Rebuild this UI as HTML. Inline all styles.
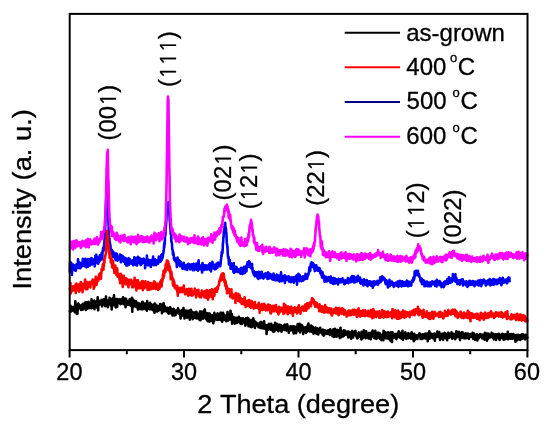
<!DOCTYPE html>
<html><head><meta charset="utf-8"><style>
html,body{margin:0;padding:0;background:#fff;width:550px;height:430px;overflow:hidden}
svg{display:block}
text{font-family:"Liberation Sans",Arial,sans-serif;fill:#000;font-kerning:none;stroke:#000;stroke-width:0.3px}
</style></head><body>
<svg width="550" height="430" viewBox="0 0 550 430">
<rect x="0" y="0" width="550" height="430" fill="#fff"/>
<g fill="none" stroke-linejoin="round" stroke-width="2.6">
<polyline stroke="#000" points="69.8,310.4 70.0,311.7 70.3,310.3 70.5,305.9 70.7,311.8 70.9,310.5 71.2,307.8 71.4,310.8 71.6,310.2 71.9,310.0 72.1,309.2 72.3,310.6 72.5,307.1 72.8,308.6 73.0,307.7 73.2,310.5 73.5,309.0 73.7,308.0 73.9,306.7 74.1,308.1 74.4,308.7 74.6,307.9 74.8,312.1 75.1,311.3 75.3,301.3 75.5,303.4 75.8,308.0 76.0,307.3 76.2,309.0 76.4,308.9 76.7,314.0 76.9,305.3 77.1,307.2 77.4,313.6 77.6,309.9 77.8,309.9 78.0,306.7 78.3,303.6 78.5,308.4 78.7,308.2 79.0,304.6 79.2,306.0 79.4,307.6 79.6,305.2 79.9,307.5 80.1,307.9 80.3,307.7 80.6,306.2 80.8,309.1 81.0,309.9 81.2,308.3 81.5,305.2 81.7,309.3 81.9,306.0 82.2,309.6 82.4,304.4 82.6,309.7 82.8,307.1 83.1,303.8 83.3,306.3 83.5,307.2 83.8,307.7 84.0,304.4 84.2,304.0 84.4,307.4 84.7,305.6 84.9,307.4 85.1,308.8 85.4,302.3 85.6,307.4 85.8,309.9 86.0,305.8 86.3,304.4 86.5,308.5 86.7,307.1 87.0,308.8 87.2,305.4 87.4,302.4 87.7,306.0 87.9,305.0 88.1,308.2 88.3,306.6 88.6,301.7 88.8,302.8 89.0,308.2 89.3,307.6 89.5,304.1 89.7,305.7 89.9,306.9 90.2,306.9 90.4,307.9 90.6,306.2 90.9,305.2 91.1,304.7 91.3,308.1 91.5,299.4 91.8,304.9 92.0,305.3 92.2,301.4 92.5,305.9 92.7,303.3 92.9,307.2 93.1,304.6 93.4,306.6 93.6,308.0 93.8,305.7 94.1,302.4 94.3,300.6 94.5,309.2 94.7,304.2 95.0,302.6 95.2,304.8 95.4,303.8 95.7,306.5 95.9,304.3 96.1,304.2 96.3,302.2 96.6,305.3 96.8,301.3 97.0,305.7 97.3,307.9 97.5,299.8 97.7,297.3 97.9,305.3 98.2,310.3 98.4,301.0 98.6,300.3 98.9,305.0 99.1,301.2 99.3,302.1 99.6,302.4 99.8,304.7 100.0,302.2 100.2,303.9 100.5,302.6 100.7,300.9 100.9,302.2 101.2,300.5 101.4,302.9 101.6,299.9 101.8,299.9 102.1,306.5 102.3,302.5 102.5,302.5 102.8,303.9 103.0,301.4 103.2,301.8 103.4,303.5 103.7,303.1 103.9,299.3 104.1,304.4 104.4,300.6 104.6,299.4 104.8,299.7 105.0,301.0 105.3,306.2 105.5,299.0 105.7,302.4 106.0,296.5 106.2,302.0 106.4,304.4 106.6,301.4 106.9,300.4 107.1,302.6 107.3,303.8 107.6,303.8 107.8,307.1 108.0,302.6 108.2,300.5 108.5,301.7 108.7,301.9 108.9,302.3 109.2,302.0 109.4,302.5 109.6,297.8 109.8,304.2 110.1,300.6 110.3,299.1 110.5,303.7 110.8,305.5 111.0,303.4 111.2,302.5 111.5,299.7 111.7,309.5 111.9,304.4 112.1,299.2 112.4,300.1 112.6,302.3 112.8,298.1 113.1,302.6 113.3,301.0 113.5,305.3 113.7,304.6 114.0,295.2 114.2,302.3 114.4,298.0 114.7,305.0 114.9,302.6 115.1,303.6 115.3,299.4 115.6,306.9 115.8,307.3 116.0,299.5 116.3,303.1 116.5,300.5 116.7,302.1 116.9,299.0 117.2,307.0 117.4,299.7 117.6,301.4 117.9,303.5 118.1,300.6 118.3,301.6 118.5,300.8 118.8,301.9 119.0,299.2 119.2,301.1 119.5,301.7 119.7,301.4 119.9,302.4 120.1,301.5 120.4,304.2 120.6,301.4 120.8,301.9 121.1,300.6 121.3,300.9 121.5,299.0 121.7,303.6 122.0,299.4 122.2,300.4 122.4,303.2 122.7,303.3 122.9,301.3 123.1,297.2 123.4,303.4 123.6,303.0 123.8,298.7 124.0,304.3 124.3,300.6 124.5,299.6 124.7,302.7 125.0,302.1 125.2,303.1 125.4,298.5 125.6,307.2 125.9,301.2 126.1,298.8 126.3,304.3 126.6,301.9 126.8,303.7 127.0,302.0 127.2,302.8 127.5,303.6 127.7,301.2 127.9,304.8 128.2,301.9 128.4,301.0 128.6,303.4 128.8,304.4 129.1,302.7 129.3,301.2 129.5,304.9 129.8,299.0 130.0,300.9 130.2,303.6 130.4,300.1 130.7,303.7 130.9,303.5 131.1,305.9 131.4,301.4 131.6,302.2 131.8,304.7 132.0,297.7 132.3,311.7 132.5,302.2 132.7,302.2 133.0,306.2 133.2,304.0 133.4,299.7 133.6,305.7 133.9,306.3 134.1,303.1 134.3,303.6 134.6,305.6 134.8,302.1 135.0,305.5 135.3,305.0 135.5,302.8 135.7,301.1 135.9,304.0 136.2,302.5 136.4,307.2 136.6,305.1 136.9,306.7 137.1,305.1 137.3,305.5 137.5,302.9 137.8,306.6 138.0,309.4 138.2,304.3 138.5,303.6 138.7,304.7 138.9,304.0 139.1,303.5 139.4,305.6 139.6,304.6 139.8,308.9 140.1,305.4 140.3,306.2 140.5,307.8 140.7,304.8 141.0,309.1 141.2,304.0 141.4,303.6 141.7,304.8 141.9,305.4 142.1,302.3 142.3,305.7 142.6,301.7 142.8,309.3 143.0,305.7 143.3,304.4 143.5,303.8 143.7,305.1 143.9,305.6 144.2,303.6 144.4,303.9 144.6,305.8 144.9,305.0 145.1,308.6 145.3,309.2 145.5,306.5 145.8,307.6 146.0,303.2 146.2,308.1 146.5,306.5 146.7,307.8 146.9,310.6 147.2,301.0 147.4,307.3 147.6,304.0 147.8,308.2 148.1,303.5 148.3,305.6 148.5,307.3 148.8,308.3 149.0,307.0 149.2,304.9 149.4,305.6 149.7,309.1 149.9,307.0 150.1,302.9 150.4,309.1 150.6,308.1 150.8,309.2 151.0,306.3 151.3,309.2 151.5,304.6 151.7,308.6 152.0,306.0 152.2,308.9 152.4,309.7 152.6,305.5 152.9,307.2 153.1,307.5 153.3,310.3 153.6,309.2 153.8,304.5 154.0,308.6 154.2,309.3 154.5,312.7 154.7,303.5 154.9,306.3 155.2,310.9 155.4,304.3 155.6,304.7 155.8,309.0 156.1,310.2 156.3,306.1 156.5,309.1 156.8,308.1 157.0,311.5 157.2,307.9 157.4,310.3 157.7,305.7 157.9,307.5 158.1,307.7 158.4,310.8 158.6,309.4 158.8,306.2 159.1,309.7 159.3,310.0 159.5,307.9 159.7,307.5 160.0,307.7 160.2,304.1 160.4,308.7 160.7,308.8 160.9,306.2 161.1,310.1 161.3,305.0 161.6,307.1 161.8,307.3 162.0,313.3 162.3,304.6 162.5,309.9 162.7,310.8 162.9,309.5 163.2,311.4 163.4,306.2 163.6,303.1 163.9,310.5 164.1,305.8 164.3,307.9 164.5,305.9 164.8,311.3 165.0,310.9 165.2,307.1 165.5,311.0 165.7,309.2 165.9,308.6 166.1,309.1 166.4,308.5 166.6,310.5 166.8,309.8 167.1,308.3 167.3,311.6 167.5,307.8 167.7,310.0 168.0,310.4 168.2,312.9 168.4,308.2 168.7,313.7 168.9,310.0 169.1,309.2 169.3,308.1 169.6,311.1 169.8,309.9 170.0,307.2 170.3,307.2 170.5,308.6 170.7,308.4 171.0,312.7 171.2,313.4 171.4,312.3 171.6,311.1 171.9,309.3 172.1,310.5 172.3,312.5 172.6,315.5 172.8,312.7 173.0,309.9 173.2,310.7 173.5,309.5 173.7,308.9 173.9,310.4 174.2,311.3 174.4,315.3 174.6,311.1 174.8,314.2 175.1,315.3 175.3,311.3 175.5,315.0 175.8,312.9 176.0,310.3 176.2,312.0 176.4,311.5 176.7,310.9 176.9,311.0 177.1,311.9 177.4,312.7 177.6,309.6 177.8,311.7 178.0,308.2 178.3,312.5 178.5,313.4 178.7,312.4 179.0,312.7 179.2,313.5 179.4,310.6 179.6,311.6 179.9,313.5 180.1,314.7 180.3,313.3 180.6,318.4 180.8,312.3 181.0,314.9 181.2,315.6 181.5,312.3 181.7,310.8 181.9,310.0 182.2,313.2 182.4,315.5 182.6,313.6 182.9,313.4 183.1,312.1 183.3,314.4 183.5,308.1 183.8,313.7 184.0,313.3 184.2,310.1 184.5,318.5 184.7,310.2 184.9,310.9 185.1,310.7 185.4,316.2 185.6,311.5 185.8,315.2 186.1,315.0 186.3,314.3 186.5,310.7 186.7,312.3 187.0,317.7 187.2,310.8 187.4,311.9 187.7,313.5 187.9,315.9 188.1,314.6 188.3,315.8 188.6,311.6 188.8,316.3 189.0,315.5 189.3,310.5 189.5,317.8 189.7,319.6 189.9,312.5 190.2,314.5 190.4,317.6 190.6,310.9 190.9,309.8 191.1,311.4 191.3,313.2 191.5,313.2 191.8,316.0 192.0,315.2 192.2,311.8 192.5,316.0 192.7,319.1 192.9,317.5 193.2,317.1 193.4,314.9 193.6,317.2 193.8,312.7 194.1,316.7 194.3,314.8 194.5,317.6 194.8,316.1 195.0,312.6 195.2,315.4 195.4,318.0 195.7,312.6 195.9,313.9 196.1,313.5 196.4,311.8 196.6,317.6 196.8,318.4 197.0,317.3 197.3,316.0 197.5,315.4 197.7,316.1 198.0,313.9 198.2,317.7 198.4,318.1 198.6,317.8 198.9,314.5 199.1,315.9 199.3,315.4 199.6,319.9 199.8,316.3 200.0,311.6 200.2,316.9 200.5,320.3 200.7,317.6 200.9,318.1 201.2,316.2 201.4,311.6 201.6,312.0 201.8,313.3 202.1,315.9 202.3,317.0 202.5,317.9 202.8,315.6 203.0,318.6 203.2,315.8 203.4,314.8 203.7,318.4 203.9,314.4 204.1,310.3 204.4,314.1 204.6,316.8 204.8,309.5 205.1,315.8 205.3,315.8 205.5,313.3 205.7,313.2 206.0,315.6 206.2,315.4 206.4,319.5 206.7,317.5 206.9,313.1 207.1,314.8 207.3,318.3 207.6,321.1 207.8,317.6 208.0,317.5 208.3,321.0 208.5,316.8 208.7,316.1 208.9,313.6 209.2,315.7 209.4,321.8 209.6,313.6 209.9,316.9 210.1,313.7 210.3,317.2 210.5,319.0 210.8,316.4 211.0,318.6 211.2,318.6 211.5,318.0 211.7,320.9 211.9,318.8 212.1,316.3 212.4,315.5 212.6,315.2 212.8,318.2 213.1,316.4 213.3,323.3 213.5,321.3 213.7,316.7 214.0,316.4 214.2,321.0 214.4,312.9 214.7,316.2 214.9,319.4 215.1,315.2 215.3,316.2 215.6,316.5 215.8,318.8 216.0,317.6 216.3,318.2 216.5,318.7 216.7,317.4 217.0,319.9 217.2,315.7 217.4,314.1 217.6,313.4 217.9,313.8 218.1,316.2 218.3,319.8 218.6,317.8 218.8,316.1 219.0,315.1 219.2,316.3 219.5,316.6 219.7,316.3 219.9,314.3 220.2,316.5 220.4,319.9 220.6,312.7 220.8,317.1 221.1,312.9 221.3,318.0 221.5,316.0 221.8,313.0 222.0,317.9 222.2,321.8 222.4,317.9 222.7,320.3 222.9,317.6 223.1,312.9 223.4,318.9 223.6,316.8 223.8,314.5 224.0,319.6 224.3,318.5 224.5,316.7 224.7,319.8 225.0,315.9 225.2,319.3 225.4,315.8 225.6,319.1 225.9,315.5 226.1,321.3 226.3,318.5 226.6,321.2 226.8,316.2 227.0,316.9 227.2,319.9 227.5,312.0 227.7,315.8 227.9,320.5 228.2,319.3 228.4,320.5 228.6,317.7 228.9,319.7 229.1,316.8 229.3,315.5 229.5,314.8 229.8,317.4 230.0,317.5 230.2,317.3 230.5,310.9 230.7,314.4 230.9,317.7 231.1,319.6 231.4,317.7 231.6,317.1 231.8,314.0 232.1,323.6 232.3,316.8 232.5,323.0 232.7,322.7 233.0,319.9 233.2,318.1 233.4,319.7 233.7,317.0 233.9,320.1 234.1,319.6 234.3,320.8 234.6,321.8 234.8,323.6 235.0,319.0 235.3,322.2 235.5,318.2 235.7,318.0 235.9,318.7 236.2,317.9 236.4,322.3 236.6,322.2 236.9,323.0 237.1,320.2 237.3,320.9 237.5,319.1 237.8,317.9 238.0,321.5 238.2,321.1 238.5,318.2 238.7,321.9 238.9,316.9 239.1,320.3 239.4,319.4 239.6,319.7 239.8,318.5 240.1,323.0 240.3,322.2 240.5,323.6 240.8,321.4 241.0,318.3 241.2,320.4 241.4,318.7 241.7,322.3 241.9,324.0 242.1,322.1 242.4,320.1 242.6,320.7 242.8,322.0 243.0,318.4 243.3,322.0 243.5,322.1 243.7,320.5 244.0,320.9 244.2,322.2 244.4,320.1 244.6,320.1 244.9,323.7 245.1,322.5 245.3,325.7 245.6,320.0 245.8,318.3 246.0,324.3 246.2,324.4 246.5,320.7 246.7,319.2 246.9,322.3 247.2,318.7 247.4,321.8 247.6,317.9 247.8,322.1 248.1,318.1 248.3,322.2 248.5,326.1 248.8,322.3 249.0,324.5 249.2,321.6 249.4,321.1 249.7,319.8 249.9,325.3 250.1,323.0 250.4,326.7 250.6,320.7 250.8,322.8 251.0,323.5 251.3,326.4 251.5,327.3 251.7,322.1 252.0,321.1 252.2,319.9 252.4,326.5 252.7,323.5 252.9,322.3 253.1,323.7 253.3,318.4 253.6,320.2 253.8,325.9 254.0,324.8 254.3,324.4 254.5,321.9 254.7,325.4 254.9,328.0 255.2,321.6 255.4,324.3 255.6,323.4 255.9,325.2 256.1,324.5 256.3,324.2 256.5,322.7 256.8,324.6 257.0,323.3 257.2,324.4 257.5,324.6 257.7,326.2 257.9,323.6 258.1,324.2 258.4,327.2 258.6,324.5 258.8,324.4 259.1,326.9 259.3,325.6 259.5,325.3 259.7,325.6 260.0,322.5 260.2,326.2 260.4,328.0 260.7,326.5 260.9,322.0 261.1,325.9 261.3,323.4 261.6,324.9 261.8,325.7 262.0,322.9 262.3,328.3 262.5,325.3 262.7,327.2 262.9,326.9 263.2,328.4 263.4,328.1 263.6,322.5 263.9,325.8 264.1,321.2 264.3,324.8 264.6,327.3 264.8,327.7 265.0,328.6 265.2,325.1 265.5,326.6 265.7,326.1 265.9,328.6 266.2,329.3 266.4,325.3 266.6,334.0 266.8,326.1 267.1,325.3 267.3,327.4 267.5,327.8 267.8,327.3 268.0,324.9 268.2,329.4 268.4,326.4 268.7,329.6 268.9,329.3 269.1,323.7 269.4,324.4 269.6,324.4 269.8,327.0 270.0,326.6 270.3,327.1 270.5,324.9 270.7,327.5 271.0,329.6 271.2,323.9 271.4,326.3 271.6,327.3 271.9,326.5 272.1,326.4 272.3,330.5 272.6,329.5 272.8,328.7 273.0,325.3 273.2,331.6 273.5,327.7 273.7,325.8 273.9,326.3 274.2,326.0 274.4,331.5 274.6,327.5 274.8,327.3 275.1,322.7 275.3,328.7 275.5,325.0 275.8,324.9 276.0,328.6 276.2,325.5 276.5,329.1 276.7,329.7 276.9,323.7 277.1,327.1 277.4,324.2 277.6,327.3 277.8,329.4 278.1,324.7 278.3,331.3 278.5,326.9 278.7,325.2 279.0,327.4 279.2,329.3 279.4,324.8 279.7,327.7 279.9,324.9 280.1,330.2 280.3,328.1 280.6,326.9 280.8,330.0 281.0,325.2 281.3,327.1 281.5,331.7 281.7,327.7 281.9,330.8 282.2,328.4 282.4,326.6 282.6,327.6 282.9,328.2 283.1,327.3 283.3,326.4 283.5,326.6 283.8,325.2 284.0,328.4 284.2,329.1 284.5,329.8 284.7,324.6 284.9,330.0 285.1,328.3 285.4,325.5 285.6,328.6 285.8,330.1 286.1,329.5 286.3,330.0 286.5,330.4 286.7,330.4 287.0,328.5 287.2,324.4 287.4,327.1 287.7,329.4 287.9,327.7 288.1,330.1 288.4,330.4 288.6,328.9 288.8,332.6 289.0,326.8 289.3,330.7 289.5,327.8 289.7,327.2 290.0,330.0 290.2,327.5 290.4,330.5 290.6,326.4 290.9,328.9 291.1,327.1 291.3,328.3 291.6,328.0 291.8,326.5 292.0,330.1 292.2,326.3 292.5,326.8 292.7,330.6 292.9,330.8 293.2,330.2 293.4,329.5 293.6,333.4 293.8,326.4 294.1,327.3 294.3,326.8 294.5,330.6 294.8,329.4 295.0,331.1 295.2,330.8 295.4,328.4 295.7,327.2 295.9,326.9 296.1,333.3 296.4,330.8 296.6,330.1 296.8,328.2 297.0,328.5 297.3,328.2 297.5,328.2 297.7,324.1 298.0,328.8 298.2,328.1 298.4,329.5 298.6,329.3 298.9,330.6 299.1,328.9 299.3,330.5 299.6,323.8 299.8,326.7 300.0,332.4 300.3,326.5 300.5,328.4 300.7,330.3 300.9,327.1 301.2,330.4 301.4,326.1 301.6,325.1 301.9,326.3 302.1,325.6 302.3,328.9 302.5,328.3 302.8,329.6 303.0,326.9 303.2,334.0 303.5,328.8 303.7,328.9 303.9,329.9 304.1,328.5 304.4,327.7 304.6,329.1 304.8,330.8 305.1,330.3 305.3,330.8 305.5,327.8 305.7,327.4 306.0,333.0 306.2,328.5 306.4,330.0 306.7,330.5 306.9,331.9 307.1,326.5 307.3,328.2 307.6,328.3 307.8,328.6 308.0,324.5 308.3,329.1 308.5,323.6 308.7,330.0 308.9,330.5 309.2,330.6 309.4,327.1 309.6,331.4 309.9,327.8 310.1,327.1 310.3,327.7 310.6,328.0 310.8,330.0 311.0,331.4 311.2,325.6 311.5,328.7 311.7,331.6 311.9,330.3 312.2,330.9 312.4,327.0 312.6,331.9 312.8,326.9 313.1,330.4 313.3,332.8 313.5,333.8 313.8,331.2 314.0,331.9 314.2,329.0 314.4,329.3 314.7,332.6 314.9,330.3 315.1,330.1 315.4,327.6 315.6,330.7 315.8,331.7 316.0,328.9 316.3,329.5 316.5,333.7 316.7,330.9 317.0,330.0 317.2,328.4 317.4,329.5 317.6,330.2 317.9,333.5 318.1,329.6 318.3,334.4 318.6,329.0 318.8,330.2 319.0,332.6 319.2,330.5 319.5,329.3 319.7,330.8 319.9,331.9 320.2,327.7 320.4,330.6 320.6,330.9 320.8,330.4 321.1,332.7 321.3,330.1 321.5,330.6 321.8,331.4 322.0,332.8 322.2,331.0 322.5,334.4 322.7,329.7 322.9,334.0 323.1,329.8 323.4,331.2 323.6,332.3 323.8,335.7 324.1,333.4 324.3,330.9 324.5,334.3 324.7,331.3 325.0,330.2 325.2,332.7 325.4,332.1 325.7,333.8 325.9,330.9 326.1,332.7 326.3,333.2 326.6,332.6 326.8,332.0 327.0,330.7 327.3,333.9 327.5,332.4 327.7,333.2 327.9,331.5 328.2,332.3 328.4,330.2 328.6,332.4 328.9,333.8 329.1,332.5 329.3,334.0 329.5,333.0 329.8,335.0 330.0,332.0 330.2,329.2 330.5,333.3 330.7,332.1 330.9,330.5 331.1,333.7 331.4,333.0 331.6,333.4 331.8,331.9 332.1,332.9 332.3,333.1 332.5,336.1 332.7,331.3 333.0,332.6 333.2,333.3 333.4,329.3 333.7,329.5 333.9,336.9 334.1,329.3 334.4,333.9 334.6,331.1 334.8,331.3 335.0,328.9 335.3,331.0 335.5,334.4 335.7,330.1 336.0,334.0 336.2,333.5 336.4,336.8 336.6,332.0 336.9,335.4 337.1,334.7 337.3,332.4 337.6,329.7 337.8,335.9 338.0,330.4 338.2,332.1 338.5,334.8 338.7,335.2 338.9,331.4 339.2,333.0 339.4,332.6 339.6,335.4 339.8,338.0 340.1,329.6 340.3,335.0 340.5,327.7 340.8,333.3 341.0,331.1 341.2,337.1 341.4,333.6 341.7,331.9 341.9,332.4 342.1,332.2 342.4,333.7 342.6,333.1 342.8,334.7 343.0,336.4 343.3,334.8 343.5,331.1 343.7,330.3 344.0,332.0 344.2,335.6 344.4,332.9 344.6,332.2 344.9,333.8 345.1,330.8 345.3,331.4 345.6,334.6 345.8,333.0 346.0,332.8 346.3,334.3 346.5,332.6 346.7,332.4 346.9,332.8 347.2,334.9 347.4,333.9 347.6,331.5 347.9,333.2 348.1,335.1 348.3,337.5 348.5,331.6 348.8,334.5 349.0,333.4 349.2,335.5 349.5,334.8 349.7,336.8 349.9,335.0 350.1,332.9 350.4,333.0 350.6,334.8 350.8,334.8 351.1,338.7 351.3,337.3 351.5,331.8 351.7,334.8 352.0,331.5 352.2,330.9 352.4,335.6 352.7,335.2 352.9,332.2 353.1,337.4 353.3,332.3 353.6,332.0 353.8,335.5 354.0,334.7 354.3,333.9 354.5,334.1 354.7,334.7 354.9,334.0 355.2,334.0 355.4,330.7 355.6,331.8 355.9,335.5 356.1,333.0 356.3,335.4 356.5,336.8 356.8,333.7 357.0,335.0 357.2,338.4 357.5,335.8 357.7,338.0 357.9,337.4 358.2,336.0 358.4,334.3 358.6,332.9 358.8,332.4 359.1,335.5 359.3,335.5 359.5,334.3 359.8,336.3 360.0,333.5 360.2,336.8 360.4,334.7 360.7,334.6 360.9,334.7 361.1,334.5 361.4,339.5 361.6,331.7 361.8,335.1 362.0,337.2 362.3,336.2 362.5,334.2 362.7,338.2 363.0,332.8 363.2,332.3 363.4,336.0 363.6,332.1 363.9,330.3 364.1,336.6 364.3,336.4 364.6,336.3 364.8,334.0 365.0,335.3 365.2,333.1 365.5,338.3 365.7,336.5 365.9,336.5 366.2,331.3 366.4,336.6 366.6,337.9 366.8,337.4 367.1,336.6 367.3,335.1 367.5,334.5 367.8,336.3 368.0,335.9 368.2,335.6 368.4,334.6 368.7,338.4 368.9,333.0 369.1,335.2 369.4,334.2 369.6,337.2 369.8,338.0 370.1,337.7 370.3,336.8 370.5,332.7 370.7,339.3 371.0,336.3 371.2,335.2 371.4,335.4 371.7,334.8 371.9,336.2 372.1,336.0 372.3,334.8 372.6,330.6 372.8,335.4 373.0,336.4 373.3,336.5 373.5,335.2 373.7,336.4 373.9,337.5 374.2,334.6 374.4,338.3 374.6,331.8 374.9,333.2 375.1,333.8 375.3,330.9 375.5,333.7 375.8,338.0 376.0,337.9 376.2,335.8 376.5,338.9 376.7,336.1 376.9,334.7 377.1,336.1 377.4,335.4 377.6,337.0 377.8,332.8 378.1,337.5 378.3,334.8 378.5,337.3 378.7,332.8 379.0,334.9 379.2,335.8 379.4,337.4 379.7,333.4 379.9,338.9 380.1,336.6 380.3,334.7 380.6,338.0 380.8,335.9 381.0,337.9 381.3,340.1 381.5,337.2 381.7,334.8 382.0,335.0 382.2,336.9 382.4,336.3 382.6,334.2 382.9,334.5 383.1,337.1 383.3,340.2 383.6,330.8 383.8,337.2 384.0,335.4 384.2,337.3 384.5,337.4 384.7,335.9 384.9,333.9 385.2,333.2 385.4,332.3 385.6,338.1 385.8,335.4 386.1,334.8 386.3,335.3 386.5,333.3 386.8,336.4 387.0,338.3 387.2,338.0 387.4,332.9 387.7,338.4 387.9,334.4 388.1,332.2 388.4,333.5 388.6,334.0 388.8,335.8 389.0,333.9 389.3,333.0 389.5,335.4 389.7,339.5 390.0,334.5 390.2,336.7 390.4,336.0 390.6,340.9 390.9,332.3 391.1,337.9 391.3,333.5 391.6,334.8 391.8,335.7 392.0,341.9 392.2,334.4 392.5,332.3 392.7,338.3 392.9,334.3 393.2,335.4 393.4,335.8 393.6,336.1 393.9,335.6 394.1,336.4 394.3,336.6 394.5,337.5 394.8,335.1 395.0,334.5 395.2,333.9 395.5,337.0 395.7,335.8 395.9,336.9 396.1,336.9 396.4,339.1 396.6,336.3 396.8,337.3 397.1,333.7 397.3,333.9 397.5,335.3 397.7,333.6 398.0,337.2 398.2,333.4 398.4,336.0 398.7,331.3 398.9,333.9 399.1,335.3 399.3,335.4 399.6,332.6 399.8,336.1 400.0,337.7 400.3,337.1 400.5,334.7 400.7,334.8 400.9,333.7 401.2,337.1 401.4,338.6 401.6,335.0 401.9,332.8 402.1,336.3 402.3,337.3 402.5,330.9 402.8,336.2 403.0,340.0 403.2,337.5 403.5,337.0 403.7,336.7 403.9,337.9 404.1,334.2 404.4,334.4 404.6,336.7 404.8,334.7 405.1,336.4 405.3,332.4 405.5,337.4 405.8,337.5 406.0,336.1 406.2,336.3 406.4,339.0 406.7,334.0 406.9,334.3 407.1,333.9 407.4,335.2 407.6,334.1 407.8,336.1 408.0,334.8 408.3,333.3 408.5,333.1 408.7,338.2 409.0,335.9 409.2,335.6 409.4,336.0 409.6,335.8 409.9,337.4 410.1,337.0 410.3,334.9 410.6,334.5 410.8,334.0 411.0,333.7 411.2,338.6 411.5,334.3 411.7,332.3 411.9,334.4 412.2,334.5 412.4,336.6 412.6,334.4 412.8,337.0 413.1,336.7 413.3,338.3 413.5,340.0 413.8,341.3 414.0,338.5 414.2,333.9 414.4,335.3 414.7,336.5 414.9,339.8 415.1,337.3 415.4,338.2 415.6,335.7 415.8,337.1 416.1,337.3 416.3,335.2 416.5,337.4 416.7,338.0 417.0,335.7 417.2,337.9 417.4,339.0 417.7,336.1 417.9,336.0 418.1,335.4 418.3,334.9 418.6,336.3 418.8,335.2 419.0,335.4 419.3,334.6 419.5,333.2 419.7,334.3 419.9,336.6 420.2,333.8 420.4,334.8 420.6,339.0 420.9,338.1 421.1,334.7 421.3,337.1 421.5,334.8 421.8,339.0 422.0,334.9 422.2,336.2 422.5,338.5 422.7,334.5 422.9,338.4 423.1,334.5 423.4,336.4 423.6,335.5 423.8,335.8 424.1,336.3 424.3,335.9 424.5,334.1 424.7,337.6 425.0,337.3 425.2,338.4 425.4,338.5 425.7,333.5 425.9,338.4 426.1,338.4 426.3,335.0 426.6,337.9 426.8,338.7 427.0,335.0 427.3,333.5 427.5,335.3 427.7,341.1 428.0,336.4 428.2,333.8 428.4,335.5 428.6,334.2 428.9,335.3 429.1,336.2 429.3,331.3 429.6,336.7 429.8,338.6 430.0,335.6 430.2,335.3 430.5,338.0 430.7,333.7 430.9,333.7 431.2,333.5 431.4,335.7 431.6,336.7 431.8,335.8 432.1,337.0 432.3,337.5 432.5,336.9 432.8,334.5 433.0,335.5 433.2,338.3 433.4,334.1 433.7,335.5 433.9,335.2 434.1,335.7 434.4,334.0 434.6,333.5 434.8,340.7 435.0,337.7 435.3,334.7 435.5,335.9 435.7,337.2 436.0,335.4 436.2,337.1 436.4,334.9 436.6,335.3 436.9,335.8 437.1,335.2 437.3,331.5 437.6,336.0 437.8,336.5 438.0,336.9 438.2,334.2 438.5,336.6 438.7,336.4 438.9,332.8 439.2,332.0 439.4,336.9 439.6,334.3 439.9,337.8 440.1,339.9 440.3,334.9 440.5,334.7 440.8,336.0 441.0,337.2 441.2,333.9 441.5,338.2 441.7,337.8 441.9,337.1 442.1,335.0 442.4,337.6 442.6,337.5 442.8,333.7 443.1,339.7 443.3,335.4 443.5,336.6 443.7,334.9 444.0,336.6 444.2,338.0 444.4,334.4 444.7,332.9 444.9,335.0 445.1,333.5 445.3,334.5 445.6,335.6 445.8,335.7 446.0,338.1 446.3,334.0 446.5,336.4 446.7,334.9 446.9,338.2 447.2,340.3 447.4,336.3 447.6,338.8 447.9,334.8 448.1,332.9 448.3,333.4 448.5,332.9 448.8,334.0 449.0,335.3 449.2,337.8 449.5,337.0 449.7,336.5 449.9,334.9 450.1,334.4 450.4,335.7 450.6,335.9 450.8,336.1 451.1,336.3 451.3,335.4 451.5,332.2 451.8,333.6 452.0,334.1 452.2,338.6 452.4,334.8 452.7,336.8 452.9,338.2 453.1,336.2 453.4,334.9 453.6,335.0 453.8,333.7 454.0,336.1 454.3,337.6 454.5,336.5 454.7,336.9 455.0,336.8 455.2,339.1 455.4,334.4 455.6,335.8 455.9,336.8 456.1,337.8 456.3,331.2 456.6,334.6 456.8,335.2 457.0,333.7 457.2,337.1 457.5,335.9 457.7,334.8 457.9,332.6 458.2,333.2 458.4,333.8 458.6,336.4 458.8,333.4 459.1,331.9 459.3,333.0 459.5,334.5 459.8,338.6 460.0,340.1 460.2,334.7 460.4,337.3 460.7,338.1 460.9,337.9 461.1,335.4 461.4,333.3 461.6,334.7 461.8,332.3 462.0,336.0 462.3,337.0 462.5,332.2 462.7,335.5 463.0,336.2 463.2,337.9 463.4,338.1 463.7,337.1 463.9,334.4 464.1,335.0 464.3,337.8 464.6,334.6 464.8,335.6 465.0,338.4 465.3,335.9 465.5,333.2 465.7,335.2 465.9,336.8 466.2,335.3 466.4,337.8 466.6,338.0 466.9,334.5 467.1,334.8 467.3,335.5 467.5,333.6 467.8,336.4 468.0,335.4 468.2,337.1 468.5,334.7 468.7,334.2 468.9,339.0 469.1,334.2 469.4,334.7 469.6,334.4 469.8,335.2 470.1,334.1 470.3,335.7 470.5,334.5 470.7,335.0 471.0,336.4 471.2,337.0 471.4,336.6 471.7,334.5 471.9,336.5 472.1,335.6 472.3,335.6 472.6,332.7 472.8,337.0 473.0,335.6 473.3,338.8 473.5,336.9 473.7,333.8 473.9,333.4 474.2,337.9 474.4,334.3 474.6,337.0 474.9,335.3 475.1,339.6 475.3,336.0 475.6,338.5 475.8,338.2 476.0,335.0 476.2,335.3 476.5,338.5 476.7,335.9 476.9,334.3 477.2,338.0 477.4,340.4 477.6,335.8 477.8,338.4 478.1,335.6 478.3,338.3 478.5,335.5 478.8,338.3 479.0,336.9 479.2,335.6 479.4,336.4 479.7,335.0 479.9,334.0 480.1,334.1 480.4,335.9 480.6,334.2 480.8,336.8 481.0,337.0 481.3,336.9 481.5,335.2 481.7,336.2 482.0,336.0 482.2,338.4 482.4,334.7 482.6,335.4 482.9,335.7 483.1,335.8 483.3,334.8 483.6,335.0 483.8,337.9 484.0,335.0 484.2,337.7 484.5,339.7 484.7,338.4 484.9,332.9 485.2,337.5 485.4,337.0 485.6,337.1 485.8,333.3 486.1,337.5 486.3,334.2 486.5,338.4 486.8,338.0 487.0,340.6 487.2,335.5 487.5,333.5 487.7,338.0 487.9,337.7 488.1,335.5 488.4,338.6 488.6,337.4 488.8,333.9 489.1,335.6 489.3,335.4 489.5,336.0 489.7,336.5 490.0,335.0 490.2,335.8 490.4,337.2 490.7,336.1 490.9,335.7 491.1,335.7 491.3,336.0 491.6,332.9 491.8,336.5 492.0,334.4 492.3,336.4 492.5,333.7 492.7,337.8 492.9,336.7 493.2,333.9 493.4,336.7 493.6,334.9 493.9,339.4 494.1,337.1 494.3,334.9 494.5,336.7 494.8,336.2 495.0,338.4 495.2,336.9 495.5,337.2 495.7,334.3 495.9,337.7 496.1,339.9 496.4,337.4 496.6,336.2 496.8,336.6 497.1,334.7 497.3,336.6 497.5,334.4 497.7,336.4 498.0,335.7 498.2,334.9 498.4,337.4 498.7,333.8 498.9,336.3 499.1,334.1 499.4,339.5 499.6,339.8 499.8,337.8 500.0,339.7 500.3,337.4 500.5,337.3 500.7,335.6 501.0,334.8 501.2,336.6 501.4,335.5 501.6,335.6 501.9,337.7 502.1,336.2 502.3,333.7 502.6,336.0 502.8,335.1 503.0,335.9 503.2,334.5 503.5,338.5 503.7,339.7 503.9,334.5 504.2,337.6 504.4,337.5 504.6,334.6 504.8,336.6 505.1,338.9 505.3,337.9 505.5,339.2 505.8,334.4 506.0,335.2 506.2,337.0 506.4,337.1 506.7,336.5 506.9,335.8 507.1,335.8 507.4,335.4 507.6,337.3 507.8,331.7 508.0,339.2 508.3,335.6 508.5,334.0 508.7,337.4 509.0,334.1 509.2,337.2 509.4,335.8 509.6,337.5 509.9,337.9 510.1,338.7 510.3,335.6 510.6,336.0 510.8,336.5 511.0,334.1 511.3,337.5 511.5,336.7 511.7,334.2 511.9,338.6 512.2,338.9 512.4,334.3 512.6,337.5 512.9,338.7 513.1,338.0 513.3,334.8 513.5,334.1 513.8,336.3 514.0,335.7 514.2,336.5 514.5,336.4 514.7,337.5 514.9,335.6 515.1,336.3 515.4,341.7 515.6,336.3 515.8,337.8 516.1,337.1 516.3,336.9 516.5,335.0 516.7,337.5 517.0,336.5 517.2,338.0 517.4,340.1 517.7,336.9 517.9,337.9 518.1,334.8 518.3,336.8 518.6,339.3 518.8,336.5 519.0,335.5 519.3,337.0 519.5,336.3 519.7,336.2 519.9,336.0 520.2,340.0 520.4,335.1 520.6,335.9 520.9,335.7 521.1,338.8 521.3,336.2 521.5,338.9 521.8,336.9 522.0,336.6 522.2,334.2 522.5,338.7 522.7,337.6 522.9,337.4 523.2,336.5 523.4,336.0 523.6,334.5 523.8,338.3 524.1,337.1 524.3,336.1 524.5,335.6 524.8,336.9 525.0,336.5 525.2,339.5 525.4,338.0 525.7,335.7 525.9,334.8 526.1,336.3 526.4,335.2 526.6,336.9 526.8,337.4 527.0,337.8 527.3,337.4 527.5,336.4"/>
<polyline stroke="#0000f5" points="69.8,272.5 70.0,261.9 70.3,268.7 70.5,266.4 70.7,266.6 70.9,267.1 71.2,262.9 71.4,266.9 71.6,265.4 71.9,275.0 72.1,267.8 72.3,266.4 72.5,266.5 72.8,265.6 73.0,264.6 73.2,266.1 73.5,268.0 73.7,266.3 73.9,269.0 74.1,266.3 74.4,266.8 74.6,270.2 74.8,267.8 75.1,265.4 75.3,266.0 75.5,267.6 75.8,270.8 76.0,265.7 76.2,265.7 76.4,268.4 76.7,264.1 76.9,265.4 77.1,268.0 77.4,267.2 77.6,266.1 77.8,267.3 78.0,259.3 78.3,268.0 78.5,263.4 78.7,261.7 79.0,266.1 79.2,267.0 79.4,264.4 79.6,262.9 79.9,265.3 80.1,265.1 80.3,268.3 80.6,266.8 80.8,265.4 81.0,267.5 81.2,264.4 81.5,262.7 81.7,266.1 81.9,266.0 82.2,264.1 82.4,262.8 82.6,265.0 82.8,258.8 83.1,265.9 83.3,265.4 83.5,260.5 83.8,264.3 84.0,261.9 84.2,265.8 84.4,259.4 84.7,261.9 84.9,265.5 85.1,266.4 85.4,258.9 85.6,262.5 85.8,264.4 86.0,262.2 86.3,267.1 86.5,260.7 86.7,264.2 87.0,260.9 87.2,266.4 87.4,263.1 87.7,262.2 87.9,259.1 88.1,266.7 88.3,264.6 88.6,264.5 88.8,265.3 89.0,263.5 89.3,261.2 89.5,260.7 89.7,260.7 89.9,265.5 90.2,259.0 90.4,260.9 90.6,261.4 90.9,262.6 91.1,263.3 91.3,259.1 91.5,258.0 91.8,261.8 92.0,264.4 92.2,263.3 92.5,262.0 92.7,260.8 92.9,262.1 93.1,260.8 93.4,263.1 93.6,259.4 93.8,261.4 94.1,260.7 94.3,262.1 94.5,261.3 94.7,266.4 95.0,264.0 95.2,263.9 95.4,255.8 95.7,259.5 95.9,258.8 96.1,261.3 96.3,254.9 96.6,262.5 96.8,262.1 97.0,256.7 97.3,257.3 97.5,257.6 97.7,259.4 97.9,260.6 98.2,263.6 98.4,258.4 98.6,260.4 98.9,258.8 99.1,262.2 99.3,259.7 99.6,260.9 99.8,255.2 100.0,257.0 100.2,255.3 100.5,260.2 100.7,258.0 100.9,255.6 101.2,254.9 101.4,256.6 101.6,253.6 101.8,252.6 102.1,255.3 102.3,259.1 102.5,252.5 102.8,251.1 103.0,249.0 103.2,247.6 103.4,250.7 103.7,250.0 103.9,246.5 104.1,245.1 104.4,242.1 104.6,239.0 104.8,231.6 105.0,229.5 105.3,225.7 105.5,217.9 105.7,212.3 106.0,205.0 106.2,199.7 106.4,196.8 106.6,190.0 106.9,188.8 107.1,191.7 107.3,194.5 107.6,201.7 107.8,199.2 108.0,212.0 108.2,215.1 108.5,222.1 108.7,228.7 108.9,233.6 109.2,237.2 109.4,238.4 109.6,244.1 109.8,242.0 110.1,244.0 110.3,247.4 110.5,245.5 110.8,252.5 111.0,250.8 111.2,254.1 111.5,249.8 111.7,249.6 111.9,251.4 112.1,253.2 112.4,250.7 112.6,253.3 112.8,252.9 113.1,256.9 113.3,252.3 113.5,256.4 113.7,253.0 114.0,252.6 114.2,253.5 114.4,252.8 114.7,256.0 114.9,258.2 115.1,256.5 115.3,257.8 115.6,260.2 115.8,257.5 116.0,257.5 116.3,256.7 116.5,253.9 116.7,259.3 116.9,253.9 117.2,259.4 117.4,258.0 117.6,260.7 117.9,258.2 118.1,256.6 118.3,259.3 118.5,257.4 118.8,258.4 119.0,258.9 119.2,258.6 119.5,258.6 119.7,257.3 119.9,258.8 120.1,254.6 120.4,259.0 120.6,256.8 120.8,261.9 121.1,262.3 121.3,255.3 121.5,259.9 121.7,259.4 122.0,257.4 122.2,260.9 122.4,258.8 122.7,256.0 122.9,259.3 123.1,259.6 123.4,260.2 123.6,257.3 123.8,261.4 124.0,261.7 124.3,257.6 124.5,258.7 124.7,260.0 125.0,259.0 125.2,264.0 125.4,260.7 125.6,258.1 125.9,258.6 126.1,260.2 126.3,265.4 126.6,260.0 126.8,260.7 127.0,261.6 127.2,260.4 127.5,265.5 127.7,259.4 127.9,262.2 128.2,261.0 128.4,262.0 128.6,258.1 128.8,264.6 129.1,260.5 129.3,260.8 129.5,258.8 129.8,259.2 130.0,262.1 130.2,263.0 130.4,262.5 130.7,263.5 130.9,262.5 131.1,261.0 131.4,262.8 131.6,262.3 131.8,260.8 132.0,262.6 132.3,263.9 132.5,261.6 132.7,260.4 133.0,262.7 133.2,265.3 133.4,260.7 133.6,261.0 133.9,260.9 134.1,263.9 134.3,257.3 134.6,262.1 134.8,263.9 135.0,259.6 135.3,264.6 135.5,262.5 135.7,260.2 135.9,261.9 136.2,258.1 136.4,260.2 136.6,265.4 136.9,259.6 137.1,265.5 137.3,261.4 137.5,263.7 137.8,261.7 138.0,256.8 138.2,260.4 138.5,262.0 138.7,259.2 138.9,258.8 139.1,262.5 139.4,260.3 139.6,258.1 139.8,260.3 140.1,263.6 140.3,260.7 140.5,263.8 140.7,265.1 141.0,261.9 141.2,259.4 141.4,259.0 141.7,261.8 141.9,263.8 142.1,262.5 142.3,263.1 142.6,260.9 142.8,262.5 143.0,260.9 143.3,261.2 143.5,259.2 143.7,258.6 143.9,260.9 144.2,259.6 144.4,259.9 144.6,263.4 144.9,261.7 145.1,268.2 145.3,263.9 145.5,260.6 145.8,263.6 146.0,262.7 146.2,260.5 146.5,264.3 146.7,260.3 146.9,255.5 147.2,263.7 147.4,260.7 147.6,265.2 147.8,260.6 148.1,259.5 148.3,265.3 148.5,259.7 148.8,262.4 149.0,265.1 149.2,262.2 149.4,261.8 149.7,262.2 149.9,263.7 150.1,260.2 150.4,263.3 150.6,263.2 150.8,266.9 151.0,261.3 151.3,260.0 151.5,263.5 151.7,261.1 152.0,262.6 152.2,262.2 152.4,264.4 152.6,260.6 152.9,261.7 153.1,256.5 153.3,260.0 153.6,265.2 153.8,260.4 154.0,260.4 154.2,259.3 154.5,263.0 154.7,262.2 154.9,259.3 155.2,263.1 155.4,262.2 155.6,263.3 155.8,260.3 156.1,265.2 156.3,262.4 156.5,261.2 156.8,260.3 157.0,260.8 157.2,263.1 157.4,260.6 157.7,263.4 157.9,262.2 158.1,263.7 158.4,262.5 158.6,260.5 158.8,256.5 159.1,261.0 159.3,261.9 159.5,260.4 159.7,261.0 160.0,258.7 160.2,258.6 160.4,257.2 160.7,261.7 160.9,258.9 161.1,257.2 161.3,255.0 161.6,257.1 161.8,259.9 162.0,257.3 162.3,254.1 162.5,257.9 162.7,257.1 162.9,255.2 163.2,253.7 163.4,253.3 163.6,250.6 163.9,249.6 164.1,244.6 164.3,247.4 164.5,242.6 164.8,244.0 165.0,233.0 165.2,236.0 165.5,233.6 165.7,227.8 165.9,226.2 166.1,223.5 166.4,219.8 166.6,214.2 166.8,211.9 167.1,211.4 167.3,209.5 167.5,205.1 167.7,203.8 168.0,203.6 168.2,205.5 168.4,202.1 168.7,203.2 168.9,208.5 169.1,208.5 169.3,212.6 169.6,217.2 169.8,221.3 170.0,221.3 170.3,228.4 170.5,226.2 170.7,234.0 171.0,232.3 171.2,235.6 171.4,242.0 171.6,242.0 171.9,243.2 172.1,245.8 172.3,249.3 172.6,249.8 172.8,251.1 173.0,254.6 173.2,252.0 173.5,253.5 173.7,254.2 173.9,258.5 174.2,258.8 174.4,260.0 174.6,257.9 174.8,258.1 175.1,260.7 175.3,258.6 175.5,261.5 175.8,261.6 176.0,259.0 176.2,260.6 176.4,260.9 176.7,265.0 176.9,267.0 177.1,261.7 177.4,262.2 177.6,257.6 177.8,263.0 178.0,262.7 178.3,260.7 178.5,264.7 178.7,260.0 179.0,263.0 179.2,263.8 179.4,261.1 179.6,265.6 179.9,266.1 180.1,261.2 180.3,261.3 180.6,265.5 180.8,264.3 181.0,262.0 181.2,264.0 181.5,264.4 181.7,264.5 181.9,266.5 182.2,265.7 182.4,268.6 182.6,267.9 182.9,266.5 183.1,267.4 183.3,268.0 183.5,266.8 183.8,262.9 184.0,267.2 184.2,265.6 184.5,268.9 184.7,265.8 184.9,266.7 185.1,266.4 185.4,269.2 185.6,266.2 185.8,265.3 186.1,266.5 186.3,265.1 186.5,266.3 186.7,266.0 187.0,266.6 187.2,270.0 187.4,265.3 187.7,266.2 187.9,265.8 188.1,267.6 188.3,263.8 188.6,264.8 188.8,266.2 189.0,267.4 189.3,266.2 189.5,265.3 189.7,264.6 189.9,267.5 190.2,269.4 190.4,267.1 190.6,266.9 190.9,267.4 191.1,264.6 191.3,265.9 191.5,266.0 191.8,267.2 192.0,266.6 192.2,264.2 192.5,269.0 192.7,270.1 192.9,266.2 193.2,267.5 193.4,267.3 193.6,268.4 193.8,263.8 194.1,270.1 194.3,265.9 194.5,269.4 194.8,267.0 195.0,266.1 195.2,266.6 195.4,268.7 195.7,265.2 195.9,266.2 196.1,266.0 196.4,263.5 196.6,269.6 196.8,268.2 197.0,267.0 197.3,269.4 197.5,265.1 197.7,266.9 198.0,270.6 198.2,269.1 198.4,262.6 198.6,260.4 198.9,265.0 199.1,269.3 199.3,266.2 199.6,266.7 199.8,268.4 200.0,265.4 200.2,267.7 200.5,268.8 200.7,268.2 200.9,268.1 201.2,266.1 201.4,268.3 201.6,266.4 201.8,269.9 202.1,272.5 202.3,265.8 202.5,263.0 202.8,266.5 203.0,268.1 203.2,269.5 203.4,269.6 203.7,265.8 203.9,265.8 204.1,269.9 204.4,265.2 204.6,269.6 204.8,266.9 205.1,268.9 205.3,268.7 205.5,268.8 205.7,268.9 206.0,265.3 206.2,267.8 206.4,267.2 206.7,267.8 206.9,269.6 207.1,266.6 207.3,265.7 207.6,265.7 207.8,266.5 208.0,268.6 208.3,265.4 208.5,269.3 208.7,267.6 208.9,266.5 209.2,264.3 209.4,267.4 209.6,268.3 209.9,263.3 210.1,269.2 210.3,270.1 210.5,267.5 210.8,267.7 211.0,271.5 211.2,269.1 211.5,264.9 211.7,266.6 211.9,266.3 212.1,266.2 212.4,261.8 212.6,268.0 212.8,265.2 213.1,266.7 213.3,266.1 213.5,268.1 213.7,265.8 214.0,264.8 214.2,267.4 214.4,269.2 214.7,265.7 214.9,269.1 215.1,266.8 215.3,265.2 215.6,269.3 215.8,264.6 216.0,268.2 216.3,265.2 216.5,267.0 216.7,263.6 217.0,264.3 217.2,268.0 217.4,266.2 217.6,265.8 217.9,264.8 218.1,266.4 218.3,262.6 218.6,263.0 218.8,264.7 219.0,263.2 219.2,263.2 219.5,264.1 219.7,263.7 219.9,263.1 220.2,266.3 220.4,264.4 220.6,264.2 220.8,260.9 221.1,258.9 221.3,255.9 221.5,256.7 221.8,251.8 222.0,252.9 222.2,253.6 222.4,253.0 222.7,249.2 222.9,242.9 223.1,242.6 223.4,237.1 223.6,237.2 223.8,232.3 224.0,231.3 224.3,232.1 224.5,226.8 224.7,228.3 225.0,223.5 225.2,222.8 225.4,227.2 225.6,229.9 225.9,227.9 226.1,231.9 226.3,232.1 226.6,237.6 226.8,242.9 227.0,244.0 227.2,245.9 227.5,246.9 227.7,252.8 227.9,255.8 228.2,257.4 228.4,258.4 228.6,256.9 228.9,264.1 229.1,261.7 229.3,262.5 229.5,265.0 229.8,260.0 230.0,264.7 230.2,265.1 230.5,266.5 230.7,268.8 230.9,267.4 231.1,263.2 231.4,266.4 231.6,267.7 231.8,267.8 232.1,265.2 232.3,264.6 232.5,269.1 232.7,268.8 233.0,268.3 233.2,265.1 233.4,272.0 233.7,263.1 233.9,268.1 234.1,273.0 234.3,268.7 234.6,269.6 234.8,266.9 235.0,271.9 235.3,266.9 235.5,269.9 235.7,269.8 235.9,267.6 236.2,271.4 236.4,267.0 236.6,268.5 236.9,269.8 237.1,269.2 237.3,271.0 237.5,271.9 237.8,269.6 238.0,269.2 238.2,269.3 238.5,269.7 238.7,272.0 238.9,270.1 239.1,271.3 239.4,270.4 239.6,269.0 239.8,272.3 240.1,268.7 240.3,270.8 240.5,273.7 240.8,268.7 241.0,270.7 241.2,267.8 241.4,269.9 241.7,268.0 241.9,270.2 242.1,269.9 242.4,271.1 242.6,273.9 242.8,271.4 243.0,272.0 243.3,270.6 243.5,270.2 243.7,268.9 244.0,266.9 244.2,270.4 244.4,273.2 244.6,270.8 244.9,268.7 245.1,272.6 245.3,268.3 245.6,267.7 245.8,266.2 246.0,266.3 246.2,267.4 246.5,271.3 246.7,266.7 246.9,264.7 247.2,265.1 247.4,265.4 247.6,262.2 247.8,265.4 248.1,266.2 248.3,265.3 248.5,265.6 248.8,261.9 249.0,261.2 249.2,267.0 249.4,266.8 249.7,262.0 249.9,265.7 250.1,265.7 250.4,267.1 250.6,267.0 250.8,266.1 251.0,267.9 251.3,268.4 251.5,268.5 251.7,265.5 252.0,263.8 252.2,268.5 252.4,267.3 252.7,271.3 252.9,272.6 253.1,272.1 253.3,271.2 253.6,272.3 253.8,274.7 254.0,271.3 254.3,274.7 254.5,274.5 254.7,273.9 254.9,276.3 255.2,272.3 255.4,275.6 255.6,272.2 255.9,272.6 256.1,272.1 256.3,275.1 256.5,272.5 256.8,274.5 257.0,272.3 257.2,276.5 257.5,278.0 257.7,275.1 257.9,277.8 258.1,275.8 258.4,278.9 258.6,275.0 258.8,271.9 259.1,277.7 259.3,274.7 259.5,273.1 259.7,273.8 260.0,272.0 260.2,274.8 260.4,273.2 260.7,278.0 260.9,276.5 261.1,272.2 261.3,272.5 261.6,274.3 261.8,271.8 262.0,275.3 262.3,275.4 262.5,274.1 262.7,274.5 262.9,276.5 263.2,278.3 263.4,278.5 263.6,275.8 263.9,277.3 264.1,274.4 264.3,276.6 264.6,274.0 264.8,277.2 265.0,273.6 265.2,274.1 265.5,275.9 265.7,277.0 265.9,273.3 266.2,275.0 266.4,276.3 266.6,276.5 266.8,274.6 267.1,276.4 267.3,275.7 267.5,278.9 267.8,277.3 268.0,273.8 268.2,272.2 268.4,276.5 268.7,278.6 268.9,276.7 269.1,278.1 269.4,275.6 269.6,273.9 269.8,277.9 270.0,276.7 270.3,277.8 270.5,274.0 270.7,277.0 271.0,275.5 271.2,278.2 271.4,275.6 271.6,275.6 271.9,275.7 272.1,279.1 272.3,276.9 272.6,275.4 272.8,275.0 273.0,275.0 273.2,279.7 273.5,273.6 273.7,275.4 273.9,278.2 274.2,279.2 274.4,276.8 274.6,278.6 274.8,278.5 275.1,279.0 275.3,277.3 275.5,280.3 275.8,277.6 276.0,280.1 276.2,275.3 276.5,279.1 276.7,275.1 276.9,274.6 277.1,278.4 277.4,275.9 277.6,278.3 277.8,275.5 278.1,280.5 278.3,277.6 278.5,275.5 278.7,277.9 279.0,279.3 279.2,276.3 279.4,278.7 279.7,281.5 279.9,279.4 280.1,277.8 280.3,276.8 280.6,278.9 280.8,275.1 281.0,272.3 281.3,276.7 281.5,275.9 281.7,281.2 281.9,278.2 282.2,276.2 282.4,275.9 282.6,279.0 282.9,276.5 283.1,277.0 283.3,277.9 283.5,278.3 283.8,278.3 284.0,278.4 284.2,280.6 284.5,281.4 284.7,275.2 284.9,283.0 285.1,278.5 285.4,280.6 285.6,277.0 285.8,279.0 286.1,278.8 286.3,278.6 286.5,280.0 286.7,279.6 287.0,276.6 287.2,278.3 287.4,279.9 287.7,279.8 287.9,278.0 288.1,278.1 288.4,278.3 288.6,276.6 288.8,276.3 289.0,281.5 289.3,278.0 289.5,278.9 289.7,277.4 290.0,281.1 290.2,282.0 290.4,278.4 290.6,279.7 290.9,277.5 291.1,282.1 291.3,280.5 291.6,277.3 291.8,281.1 292.0,279.5 292.2,279.6 292.5,279.5 292.7,277.7 292.9,277.9 293.2,280.0 293.4,278.8 293.6,277.2 293.8,282.6 294.1,278.6 294.3,277.9 294.5,277.7 294.8,280.2 295.0,280.7 295.2,279.4 295.4,280.5 295.7,276.3 295.9,278.3 296.1,278.1 296.4,279.0 296.6,279.9 296.8,275.3 297.0,284.6 297.3,277.4 297.5,279.6 297.7,280.5 298.0,280.5 298.2,279.4 298.4,273.7 298.6,277.0 298.9,280.3 299.1,277.3 299.3,277.1 299.6,274.7 299.8,281.1 300.0,279.8 300.3,277.3 300.5,278.7 300.7,278.7 300.9,276.9 301.2,278.4 301.4,279.3 301.6,279.8 301.9,281.1 302.1,278.8 302.3,277.9 302.5,279.5 302.8,277.6 303.0,276.4 303.2,280.7 303.5,277.9 303.7,278.8 303.9,279.7 304.1,276.5 304.4,279.5 304.6,279.1 304.8,278.0 305.1,278.8 305.3,276.6 305.5,273.9 305.7,277.2 306.0,275.9 306.2,278.9 306.4,277.6 306.7,275.9 306.9,276.6 307.1,278.7 307.3,277.9 307.6,276.1 307.8,275.8 308.0,274.0 308.3,273.8 308.5,274.5 308.7,272.6 308.9,272.7 309.2,269.5 309.4,267.8 309.6,267.0 309.9,268.5 310.1,270.9 310.3,269.9 310.6,265.3 310.8,263.6 311.0,267.2 311.2,266.1 311.5,262.3 311.7,266.4 311.9,264.6 312.2,266.6 312.4,264.9 312.6,266.0 312.8,265.3 313.1,263.4 313.3,265.1 313.5,264.8 313.8,267.9 314.0,265.2 314.2,264.7 314.4,269.0 314.7,270.2 314.9,271.1 315.1,270.8 315.4,266.3 315.6,267.9 315.8,268.3 316.0,269.2 316.3,265.4 316.5,269.1 316.7,269.5 317.0,267.2 317.2,268.9 317.4,270.7 317.6,268.5 317.9,270.2 318.1,270.0 318.3,269.0 318.6,269.0 318.8,267.8 319.0,270.9 319.2,268.2 319.5,268.2 319.7,271.1 319.9,269.1 320.2,271.6 320.4,273.3 320.6,272.1 320.8,272.7 321.1,274.7 321.3,274.9 321.5,271.4 321.8,272.3 322.0,277.4 322.2,276.2 322.5,272.2 322.7,273.8 322.9,276.6 323.1,275.1 323.4,278.0 323.6,277.6 323.8,278.5 324.1,275.8 324.3,279.1 324.5,281.6 324.7,276.9 325.0,280.8 325.2,280.3 325.4,279.9 325.7,278.7 325.9,276.9 326.1,277.5 326.3,280.5 326.6,280.9 326.8,281.5 327.0,281.1 327.3,281.0 327.5,278.8 327.7,277.5 327.9,280.0 328.2,280.6 328.4,279.9 328.6,277.1 328.9,279.0 329.1,277.3 329.3,280.2 329.5,278.2 329.8,279.8 330.0,280.7 330.2,280.4 330.5,282.6 330.7,278.3 330.9,276.5 331.1,282.0 331.4,282.9 331.6,283.0 331.8,281.0 332.1,281.5 332.3,280.8 332.5,278.3 332.7,279.6 333.0,281.5 333.2,279.6 333.4,284.0 333.7,278.0 333.9,279.9 334.1,282.6 334.4,279.6 334.6,278.7 334.8,278.4 335.0,279.5 335.3,283.4 335.5,281.5 335.7,281.7 336.0,279.9 336.2,282.3 336.4,281.0 336.6,279.2 336.9,280.1 337.1,281.2 337.3,282.9 337.6,280.8 337.8,281.8 338.0,284.4 338.2,279.5 338.5,278.8 338.7,282.7 338.9,281.7 339.2,280.8 339.4,281.4 339.6,280.4 339.8,281.9 340.1,280.4 340.3,282.4 340.5,279.0 340.8,279.6 341.0,281.2 341.2,280.2 341.4,282.3 341.7,281.0 341.9,280.1 342.1,281.4 342.4,280.1 342.6,278.4 342.8,279.1 343.0,279.7 343.3,280.3 343.5,281.3 343.7,282.7 344.0,282.1 344.2,284.2 344.4,283.3 344.6,280.8 344.9,284.0 345.1,283.2 345.3,280.3 345.6,281.6 345.8,283.0 346.0,281.5 346.3,282.8 346.5,281.8 346.7,282.3 346.9,280.5 347.2,281.7 347.4,280.4 347.6,282.2 347.9,278.1 348.1,281.6 348.3,283.1 348.5,281.9 348.8,280.8 349.0,281.8 349.2,279.3 349.5,279.3 349.7,280.1 349.9,280.4 350.1,282.2 350.4,278.9 350.6,282.1 350.8,277.6 351.1,278.8 351.3,280.0 351.5,282.0 351.7,278.8 352.0,276.0 352.2,280.3 352.4,279.4 352.7,277.5 352.9,277.4 353.1,277.9 353.3,279.1 353.6,280.0 353.8,276.2 354.0,282.5 354.3,278.4 354.5,277.8 354.7,279.5 354.9,278.4 355.2,282.3 355.4,280.1 355.6,277.6 355.9,277.5 356.1,277.4 356.3,277.7 356.5,279.6 356.8,277.4 357.0,281.4 357.2,278.6 357.5,278.7 357.7,280.7 357.9,275.8 358.2,277.8 358.4,280.6 358.6,279.8 358.8,279.9 359.1,280.7 359.3,279.2 359.5,280.1 359.8,278.2 360.0,277.5 360.2,283.0 360.4,279.4 360.7,279.9 360.9,283.6 361.1,283.2 361.4,280.6 361.6,280.7 361.8,281.5 362.0,280.1 362.3,282.8 362.5,282.2 362.7,282.2 363.0,283.4 363.2,283.4 363.4,285.4 363.6,284.9 363.9,279.4 364.1,283.9 364.3,280.5 364.6,280.0 364.8,283.7 365.0,281.3 365.2,282.0 365.5,284.5 365.7,281.5 365.9,281.2 366.2,283.3 366.4,284.8 366.6,283.7 366.8,280.1 367.1,281.7 367.3,282.6 367.5,286.2 367.8,284.4 368.0,284.4 368.2,285.0 368.4,282.4 368.7,283.8 368.9,283.8 369.1,281.4 369.4,283.0 369.6,284.0 369.8,281.2 370.1,284.5 370.3,284.4 370.5,284.9 370.7,281.8 371.0,283.3 371.2,285.6 371.4,284.5 371.7,281.8 371.9,283.5 372.1,285.6 372.3,283.0 372.6,283.8 372.8,287.6 373.0,283.1 373.3,283.0 373.5,281.5 373.7,282.1 373.9,285.7 374.2,283.0 374.4,281.2 374.6,281.6 374.9,283.2 375.1,284.5 375.3,281.9 375.5,284.4 375.8,282.4 376.0,283.8 376.2,284.0 376.5,284.2 376.7,282.4 376.9,282.8 377.1,283.9 377.4,280.8 377.6,283.2 377.8,283.8 378.1,284.6 378.3,282.7 378.5,282.3 378.7,282.7 379.0,281.1 379.2,281.8 379.4,282.7 379.7,282.3 379.9,279.8 380.1,280.7 380.3,277.4 380.6,282.1 380.8,279.5 381.0,280.5 381.3,277.9 381.5,279.3 381.7,279.9 382.0,280.5 382.2,276.3 382.4,279.9 382.6,278.1 382.9,277.0 383.1,279.1 383.3,277.9 383.6,278.1 383.8,277.7 384.0,279.5 384.2,279.5 384.5,279.5 384.7,278.5 384.9,279.6 385.2,281.5 385.4,283.3 385.6,281.4 385.8,284.1 386.1,282.0 386.3,280.4 386.5,283.5 386.8,281.0 387.0,283.5 387.2,284.7 387.4,282.6 387.7,283.0 387.9,287.4 388.1,283.8 388.4,283.9 388.6,284.8 388.8,283.4 389.0,283.5 389.3,284.3 389.5,279.7 389.7,286.1 390.0,282.0 390.2,282.0 390.4,284.8 390.6,283.9 390.9,281.8 391.1,284.3 391.3,282.0 391.6,282.8 391.8,281.5 392.0,282.6 392.2,284.7 392.5,284.2 392.7,284.6 392.9,285.6 393.2,284.0 393.4,283.0 393.6,283.6 393.9,286.9 394.1,284.2 394.3,284.7 394.5,284.0 394.8,284.6 395.0,284.9 395.2,284.1 395.5,283.9 395.7,282.8 395.9,282.7 396.1,284.8 396.4,285.4 396.6,285.7 396.8,284.2 397.1,282.8 397.3,285.2 397.5,285.2 397.7,281.6 398.0,285.5 398.2,285.1 398.4,286.9 398.7,282.2 398.9,282.0 399.1,285.4 399.3,281.1 399.6,282.9 399.8,282.3 400.0,282.4 400.3,280.9 400.5,283.7 400.7,285.7 400.9,284.8 401.2,284.8 401.4,283.5 401.6,286.4 401.9,284.9 402.1,285.8 402.3,281.4 402.5,284.6 402.8,282.1 403.0,284.6 403.2,284.3 403.5,282.1 403.7,284.3 403.9,285.9 404.1,284.8 404.4,284.9 404.6,282.5 404.8,282.8 405.1,282.0 405.3,284.1 405.5,285.8 405.8,284.6 406.0,283.8 406.2,281.9 406.4,284.5 406.7,283.4 406.9,280.6 407.1,280.8 407.4,283.1 407.6,282.2 407.8,286.3 408.0,283.6 408.3,281.8 408.5,282.7 408.7,286.1 409.0,281.8 409.2,284.6 409.4,284.0 409.6,285.6 409.9,284.0 410.1,282.3 410.3,283.8 410.6,282.9 410.8,284.3 411.0,282.4 411.2,285.6 411.5,282.0 411.7,282.7 411.9,280.6 412.2,281.6 412.4,281.1 412.6,281.0 412.8,281.9 413.1,279.1 413.3,278.1 413.5,280.8 413.8,278.0 414.0,276.8 414.2,279.1 414.4,277.9 414.7,271.6 414.9,274.6 415.1,275.8 415.4,275.2 415.6,272.3 415.8,275.1 416.1,270.7 416.3,271.1 416.5,271.4 416.7,270.9 417.0,272.1 417.2,272.5 417.4,271.0 417.7,273.7 417.9,270.7 418.1,272.0 418.3,275.8 418.6,273.8 418.8,276.1 419.0,274.3 419.3,275.3 419.5,276.2 419.7,277.3 419.9,277.1 420.2,278.3 420.4,279.9 420.6,281.3 420.9,280.0 421.1,281.3 421.3,282.1 421.5,279.2 421.8,278.7 422.0,284.2 422.2,284.0 422.5,282.2 422.7,282.8 422.9,280.9 423.1,280.3 423.4,283.2 423.6,280.4 423.8,284.4 424.1,281.9 424.3,283.6 424.5,286.3 424.7,286.3 425.0,282.9 425.2,285.1 425.4,281.7 425.7,282.5 425.9,284.1 426.1,285.8 426.3,282.6 426.6,284.5 426.8,283.8 427.0,281.6 427.3,283.4 427.5,286.1 427.7,283.5 428.0,284.5 428.2,285.1 428.4,282.6 428.6,285.8 428.9,286.2 429.1,286.4 429.3,285.9 429.6,283.1 429.8,282.9 430.0,282.6 430.2,282.4 430.5,282.6 430.7,285.5 430.9,286.2 431.2,282.8 431.4,285.2 431.6,281.8 431.8,283.4 432.1,282.3 432.3,281.3 432.5,284.0 432.8,284.0 433.0,283.2 433.2,283.1 433.4,282.3 433.7,283.7 433.9,282.9 434.1,284.3 434.4,281.9 434.6,284.3 434.8,284.7 435.0,285.9 435.3,285.6 435.5,284.2 435.7,282.8 436.0,280.9 436.2,283.8 436.4,286.1 436.6,286.5 436.9,279.7 437.1,282.6 437.3,283.3 437.6,282.1 437.8,284.1 438.0,283.9 438.2,283.0 438.5,283.7 438.7,281.2 438.9,282.2 439.2,282.3 439.4,285.2 439.6,281.1 439.9,283.4 440.1,285.0 440.3,283.6 440.5,285.0 440.8,282.6 441.0,284.4 441.2,285.1 441.5,287.2 441.7,284.8 441.9,285.9 442.1,283.6 442.4,283.7 442.6,286.0 442.8,284.4 443.1,285.7 443.3,284.6 443.5,286.8 443.7,287.2 444.0,282.0 444.2,286.2 444.4,283.9 444.7,283.9 444.9,282.9 445.1,284.2 445.3,281.2 445.6,281.7 445.8,281.6 446.0,283.2 446.3,284.1 446.5,283.7 446.7,283.0 446.9,281.3 447.2,279.3 447.4,282.7 447.6,282.1 447.9,282.3 448.1,283.9 448.3,281.1 448.5,280.9 448.8,277.3 449.0,281.8 449.2,280.6 449.5,279.3 449.7,280.9 449.9,278.4 450.1,279.0 450.4,282.8 450.6,280.7 450.8,280.7 451.1,280.3 451.3,279.9 451.5,279.0 451.8,282.2 452.0,278.3 452.2,279.4 452.4,277.8 452.7,277.5 452.9,274.1 453.1,274.8 453.4,280.4 453.6,280.3 453.8,277.2 454.0,277.9 454.3,279.0 454.5,276.6 454.7,281.1 455.0,276.7 455.2,277.4 455.4,274.3 455.6,281.3 455.9,279.2 456.1,281.9 456.3,277.9 456.6,280.2 456.8,280.0 457.0,280.4 457.2,283.6 457.5,284.1 457.7,282.8 457.9,280.2 458.2,282.4 458.4,283.3 458.6,282.2 458.8,282.4 459.1,282.4 459.3,280.3 459.5,282.3 459.8,284.6 460.0,280.5 460.2,282.4 460.4,283.7 460.7,280.3 460.9,282.3 461.1,279.9 461.4,281.7 461.6,280.5 461.8,281.4 462.0,282.1 462.3,282.5 462.5,282.6 462.7,279.2 463.0,285.5 463.2,282.6 463.4,281.3 463.7,282.1 463.9,283.6 464.1,281.6 464.3,282.5 464.6,282.4 464.8,284.1 465.0,282.0 465.3,284.0 465.5,283.8 465.7,283.0 465.9,285.2 466.2,283.3 466.4,281.4 466.6,283.8 466.9,283.5 467.1,283.2 467.3,283.7 467.5,287.0 467.8,283.7 468.0,284.1 468.2,282.9 468.5,285.4 468.7,283.3 468.9,282.1 469.1,281.4 469.4,284.2 469.6,284.5 469.8,280.8 470.1,282.2 470.3,284.4 470.5,284.9 470.7,281.2 471.0,282.7 471.2,284.6 471.4,282.4 471.7,282.6 471.9,282.4 472.1,281.2 472.3,283.3 472.6,283.7 472.8,281.0 473.0,283.4 473.3,284.9 473.5,283.5 473.7,284.6 473.9,282.3 474.2,285.3 474.4,281.9 474.6,286.1 474.9,282.4 475.1,282.0 475.3,281.7 475.6,282.4 475.8,282.3 476.0,281.9 476.2,282.5 476.5,284.0 476.7,284.4 476.9,282.4 477.2,284.9 477.4,281.4 477.6,281.3 477.8,281.1 478.1,283.8 478.3,280.5 478.5,280.7 478.8,284.9 479.0,285.5 479.2,284.9 479.4,280.5 479.7,282.8 479.9,284.1 480.1,282.9 480.4,280.2 480.6,282.2 480.8,280.1 481.0,280.8 481.3,286.1 481.5,283.7 481.7,280.4 482.0,280.3 482.2,283.3 482.4,281.7 482.6,283.5 482.9,281.6 483.1,282.3 483.3,282.9 483.6,280.9 483.8,279.5 484.0,280.7 484.2,281.4 484.5,282.2 484.7,282.4 484.9,282.3 485.2,283.2 485.4,281.0 485.6,284.6 485.8,285.5 486.1,282.9 486.3,282.7 486.5,284.3 486.8,283.3 487.0,282.6 487.2,282.0 487.5,281.1 487.7,280.5 487.9,283.3 488.1,284.1 488.4,280.6 488.6,282.1 488.8,282.5 489.1,281.5 489.3,281.0 489.5,281.5 489.7,279.1 490.0,282.0 490.2,281.6 490.4,285.4 490.7,283.5 490.9,281.5 491.1,282.0 491.3,284.7 491.6,284.5 491.8,282.3 492.0,281.8 492.3,279.7 492.5,281.4 492.7,281.7 492.9,280.8 493.2,284.6 493.4,279.0 493.6,281.6 493.9,282.4 494.1,282.5 494.3,284.4 494.5,279.6 494.8,280.6 495.0,281.8 495.2,281.9 495.5,281.0 495.7,280.4 495.9,283.2 496.1,279.9 496.4,280.6 496.6,283.7 496.8,284.1 497.1,282.8 497.3,280.1 497.5,280.1 497.7,280.0 498.0,279.6 498.2,280.7 498.4,283.2 498.7,281.6 498.9,280.1 499.1,280.0 499.4,279.4 499.6,283.0 499.8,278.0 500.0,281.5 500.3,278.9 500.5,279.4 500.7,278.7 501.0,282.5 501.2,280.8 501.4,285.1 501.6,279.3 501.9,279.2 502.1,281.7 502.3,281.7 502.6,280.4 502.8,277.7 503.0,282.9 503.2,281.6 503.5,281.3 503.7,279.7 503.9,281.6 504.2,279.7 504.4,280.6 504.6,280.2 504.8,282.4 505.1,279.8 505.3,279.9 505.5,282.1 505.8,280.7 506.0,280.3 506.2,280.0 506.4,281.8 506.7,279.3 506.9,281.0 507.1,283.3 507.4,280.8 507.6,279.0 507.8,278.3 508.0,280.3 508.3,278.2 508.5,277.6 508.7,278.9 509.0,278.3 509.2,281.3 509.4,277.7 509.6,282.3"/>
<polyline stroke="#ff00ff" points="69.8,244.1 70.0,245.0 70.3,248.7 70.5,246.6 70.7,242.0 70.9,245.2 71.2,244.0 71.4,245.5 71.6,241.9 71.9,245.6 72.1,245.6 72.3,248.2 72.5,245.7 72.8,246.0 73.0,242.0 73.2,249.4 73.5,241.1 73.7,247.1 73.9,244.2 74.1,243.0 74.4,243.4 74.6,243.4 74.8,245.4 75.1,244.4 75.3,247.6 75.5,240.9 75.8,244.5 76.0,242.7 76.2,246.0 76.4,240.2 76.7,243.7 76.9,244.8 77.1,241.4 77.4,246.3 77.6,244.6 77.8,246.2 78.0,246.1 78.3,242.2 78.5,242.5 78.7,243.7 79.0,245.6 79.2,245.7 79.4,242.6 79.6,242.8 79.9,242.3 80.1,242.7 80.3,243.4 80.6,243.6 80.8,247.9 81.0,242.7 81.2,243.1 81.5,244.6 81.7,241.8 81.9,242.9 82.2,243.6 82.4,245.1 82.6,240.9 82.8,246.2 83.1,242.7 83.3,243.7 83.5,245.0 83.8,244.6 84.0,245.4 84.2,243.6 84.4,243.2 84.7,243.8 84.9,241.2 85.1,245.5 85.4,241.5 85.6,240.5 85.8,247.1 86.0,242.7 86.3,240.6 86.5,246.6 86.7,242.2 87.0,244.9 87.2,241.1 87.4,242.2 87.7,239.3 87.9,238.9 88.1,240.7 88.3,242.4 88.6,244.1 88.8,247.3 89.0,240.4 89.3,244.4 89.5,241.2 89.7,242.0 89.9,239.4 90.2,239.3 90.4,240.7 90.6,239.8 90.9,242.1 91.1,240.7 91.3,244.5 91.5,242.3 91.8,242.3 92.0,244.2 92.2,242.9 92.5,241.8 92.7,241.6 92.9,241.5 93.1,243.8 93.4,243.2 93.6,242.3 93.8,243.1 94.1,240.4 94.3,242.4 94.5,238.6 94.7,244.0 95.0,241.4 95.2,241.6 95.4,242.3 95.7,241.0 95.9,240.5 96.1,243.3 96.3,241.1 96.6,238.9 96.8,241.5 97.0,237.2 97.3,243.7 97.5,240.0 97.7,240.3 97.9,244.6 98.2,244.3 98.4,240.1 98.6,241.0 98.9,241.7 99.1,242.7 99.3,239.0 99.6,239.3 99.8,241.2 100.0,239.1 100.2,239.9 100.5,239.3 100.7,235.6 100.9,235.8 101.2,232.0 101.4,236.4 101.6,239.2 101.8,234.0 102.1,238.2 102.3,237.2 102.5,234.7 102.8,234.2 103.0,233.9 103.2,231.4 103.4,231.8 103.7,231.5 103.9,231.8 104.1,231.0 104.4,226.5 104.6,227.8 104.8,222.2 105.0,220.3 105.3,217.3 105.5,211.3 105.7,204.7 106.0,197.8 106.2,187.5 106.4,177.7 106.6,168.9 106.9,162.2 107.1,153.3 107.3,153.8 107.6,151.3 107.8,149.9 108.0,162.7 108.2,176.1 108.5,182.5 108.7,190.9 108.9,198.3 109.2,209.7 109.4,214.9 109.6,218.9 109.8,222.0 110.1,226.7 110.3,227.6 110.5,225.2 110.8,230.3 111.0,230.1 111.2,230.4 111.5,232.8 111.7,231.9 111.9,226.7 112.1,236.0 112.4,235.4 112.6,233.5 112.8,233.4 113.1,234.9 113.3,232.2 113.5,235.6 113.7,234.8 114.0,234.8 114.2,233.9 114.4,234.5 114.7,238.2 114.9,238.8 115.1,237.3 115.3,236.4 115.6,234.8 115.8,238.1 116.0,239.9 116.3,233.7 116.5,239.3 116.7,232.9 116.9,236.5 117.2,238.0 117.4,234.7 117.6,234.5 117.9,237.9 118.1,239.3 118.3,236.7 118.5,240.3 118.8,236.2 119.0,241.2 119.2,238.0 119.5,238.3 119.7,239.1 119.9,238.6 120.1,241.6 120.4,242.3 120.6,239.1 120.8,237.7 121.1,235.8 121.3,236.6 121.5,238.1 121.7,238.0 122.0,238.1 122.2,238.2 122.4,239.2 122.7,235.6 122.9,236.3 123.1,240.5 123.4,239.9 123.6,237.3 123.8,240.9 124.0,237.0 124.3,237.9 124.5,234.8 124.7,240.1 125.0,238.4 125.2,240.5 125.4,239.8 125.6,238.7 125.9,238.8 126.1,240.8 126.3,238.2 126.6,238.2 126.8,238.7 127.0,240.2 127.2,240.4 127.5,242.4 127.7,238.5 127.9,241.1 128.2,237.4 128.4,239.9 128.6,239.0 128.8,242.1 129.1,239.9 129.3,237.9 129.5,239.9 129.8,239.5 130.0,238.2 130.2,238.2 130.4,237.0 130.7,244.2 130.9,239.1 131.1,240.8 131.4,236.6 131.6,236.8 131.8,238.6 132.0,238.6 132.3,240.5 132.5,237.0 132.7,240.0 133.0,241.9 133.2,237.2 133.4,240.7 133.6,237.1 133.9,239.7 134.1,239.7 134.3,242.4 134.6,237.7 134.8,239.4 135.0,241.1 135.3,236.8 135.5,239.0 135.7,237.4 135.9,237.7 136.2,240.4 136.4,240.5 136.6,244.1 136.9,241.8 137.1,241.6 137.3,238.8 137.5,238.5 137.8,239.4 138.0,234.7 138.2,242.4 138.5,237.9 138.7,237.1 138.9,238.3 139.1,240.9 139.4,241.6 139.6,238.5 139.8,240.0 140.1,239.1 140.3,237.3 140.5,239.5 140.7,239.3 141.0,236.2 141.2,241.3 141.4,236.2 141.7,239.7 141.9,237.2 142.1,237.7 142.3,237.9 142.6,240.6 142.8,236.8 143.0,238.8 143.3,242.2 143.5,237.9 143.7,239.1 143.9,240.5 144.2,238.1 144.4,240.1 144.6,237.9 144.9,240.5 145.1,239.3 145.3,237.4 145.5,241.9 145.8,239.0 146.0,238.6 146.2,237.4 146.5,238.2 146.7,239.0 146.9,239.5 147.2,241.2 147.4,236.6 147.6,238.4 147.8,241.4 148.1,239.5 148.3,239.9 148.5,242.2 148.8,239.7 149.0,240.0 149.2,239.0 149.4,242.5 149.7,241.1 149.9,237.6 150.1,240.1 150.4,236.8 150.6,241.1 150.8,240.3 151.0,238.7 151.3,238.2 151.5,235.5 151.7,240.4 152.0,238.7 152.2,238.3 152.4,240.3 152.6,237.6 152.9,237.7 153.1,237.5 153.3,236.2 153.6,243.5 153.8,238.4 154.0,238.1 154.2,240.5 154.5,232.7 154.7,238.7 154.9,238.7 155.2,236.8 155.4,239.5 155.6,234.7 155.8,238.6 156.1,240.2 156.3,234.2 156.5,235.6 156.8,238.1 157.0,238.3 157.2,237.0 157.4,238.9 157.7,238.6 157.9,235.4 158.1,237.8 158.4,235.4 158.6,233.8 158.8,233.1 159.1,239.6 159.3,237.3 159.5,241.3 159.7,234.6 160.0,236.6 160.2,237.9 160.4,236.8 160.7,237.9 160.9,237.1 161.1,235.5 161.3,232.1 161.6,234.6 161.8,239.5 162.0,237.5 162.3,238.4 162.5,234.4 162.7,234.8 162.9,233.2 163.2,235.2 163.4,234.1 163.6,234.4 163.9,236.3 164.1,230.6 164.3,232.7 164.5,227.5 164.8,231.0 165.0,226.2 165.2,224.6 165.5,221.8 165.7,220.3 165.9,211.2 166.1,202.6 166.4,191.3 166.6,181.9 166.8,165.2 167.1,149.5 167.3,133.2 167.5,118.0 167.7,101.8 168.0,96.6 168.2,98.4 168.4,99.5 168.7,118.1 168.9,136.0 169.1,148.0 169.3,166.8 169.6,177.6 169.8,193.4 170.0,202.2 170.3,211.3 170.5,215.0 170.7,219.6 171.0,223.6 171.2,225.5 171.4,227.5 171.6,229.7 171.9,229.1 172.1,231.8 172.3,233.7 172.6,229.0 172.8,234.3 173.0,233.0 173.2,232.6 173.5,232.6 173.7,233.8 173.9,234.3 174.2,236.6 174.4,233.7 174.6,238.3 174.8,234.9 175.1,238.0 175.3,238.9 175.5,234.6 175.8,239.1 176.0,241.4 176.2,236.5 176.4,238.6 176.7,237.3 176.9,237.8 177.1,237.4 177.4,236.9 177.6,239.4 177.8,239.7 178.0,238.1 178.3,241.1 178.5,240.3 178.7,239.7 179.0,237.0 179.2,242.1 179.4,241.0 179.6,234.5 179.9,236.5 180.1,237.7 180.3,240.5 180.6,241.1 180.8,238.2 181.0,239.3 181.2,240.2 181.5,236.4 181.7,240.0 181.9,238.4 182.2,239.3 182.4,238.9 182.6,236.8 182.9,237.2 183.1,239.2 183.3,239.4 183.5,238.6 183.8,241.2 184.0,238.5 184.2,236.9 184.5,238.6 184.7,238.9 184.9,239.0 185.1,241.5 185.4,240.3 185.6,241.3 185.8,240.5 186.1,239.0 186.3,241.4 186.5,238.9 186.7,239.9 187.0,237.6 187.2,239.7 187.4,239.0 187.7,240.3 187.9,243.1 188.1,244.2 188.3,241.7 188.6,239.7 188.8,241.4 189.0,240.3 189.3,238.7 189.5,239.8 189.7,239.5 189.9,238.8 190.2,242.6 190.4,239.0 190.6,239.1 190.9,241.4 191.1,238.8 191.3,238.0 191.5,238.6 191.8,241.1 192.0,241.0 192.2,240.9 192.5,239.5 192.7,238.6 192.9,242.1 193.2,237.7 193.4,240.1 193.6,238.0 193.8,239.7 194.1,240.3 194.3,242.9 194.5,235.2 194.8,243.2 195.0,239.0 195.2,241.3 195.4,242.3 195.7,239.3 195.9,240.6 196.1,241.7 196.4,240.6 196.6,239.5 196.8,241.3 197.0,241.1 197.3,238.1 197.5,243.6 197.7,241.4 198.0,236.5 198.2,239.5 198.4,244.3 198.6,244.1 198.9,241.7 199.1,238.0 199.3,240.7 199.6,243.2 199.8,242.0 200.0,240.6 200.2,239.9 200.5,242.9 200.7,240.9 200.9,242.0 201.2,242.3 201.4,244.5 201.6,241.8 201.8,241.9 202.1,238.1 202.3,243.6 202.5,243.2 202.8,241.5 203.0,237.2 203.2,240.5 203.4,241.7 203.7,245.5 203.9,242.7 204.1,243.0 204.4,243.0 204.6,244.0 204.8,239.3 205.1,239.8 205.3,239.1 205.5,240.7 205.7,240.6 206.0,241.4 206.2,239.2 206.4,241.2 206.7,239.4 206.9,244.9 207.1,239.9 207.3,245.6 207.6,243.8 207.8,238.4 208.0,242.4 208.3,241.7 208.5,237.6 208.7,241.5 208.9,240.1 209.2,240.9 209.4,238.5 209.6,239.9 209.9,240.7 210.1,239.5 210.3,238.6 210.5,239.3 210.8,237.6 211.0,240.0 211.2,234.4 211.5,241.9 211.7,239.1 211.9,239.7 212.1,240.3 212.4,236.2 212.6,242.6 212.8,236.1 213.1,238.9 213.3,238.5 213.5,240.2 213.7,237.6 214.0,234.8 214.2,237.9 214.4,232.5 214.7,236.6 214.9,235.9 215.1,239.5 215.3,235.8 215.6,235.3 215.8,234.5 216.0,234.1 216.3,234.5 216.5,236.4 216.7,232.6 217.0,234.4 217.2,231.8 217.4,234.0 217.6,234.3 217.9,231.4 218.1,232.4 218.3,233.3 218.6,234.3 218.8,234.3 219.0,231.9 219.2,229.9 219.5,228.3 219.7,232.4 219.9,233.1 220.2,230.7 220.4,232.4 220.6,228.0 220.8,227.6 221.1,230.6 221.3,225.1 221.5,227.4 221.8,226.2 222.0,224.9 222.2,226.9 222.4,221.1 222.7,220.9 222.9,216.8 223.1,217.6 223.4,217.5 223.6,216.5 223.8,215.6 224.0,215.3 224.3,212.3 224.5,208.6 224.7,211.4 225.0,210.7 225.2,206.6 225.4,206.3 225.6,210.2 225.9,208.2 226.1,207.7 226.3,206.6 226.6,205.6 226.8,204.5 227.0,206.9 227.2,206.0 227.5,206.3 227.7,208.0 227.9,208.9 228.2,211.8 228.4,209.5 228.6,217.2 228.9,211.9 229.1,214.2 229.3,217.9 229.5,215.7 229.8,217.5 230.0,219.5 230.2,214.9 230.5,220.4 230.7,220.4 230.9,222.5 231.1,224.7 231.4,225.6 231.6,227.9 231.8,228.5 232.1,228.3 232.3,227.0 232.5,229.6 232.7,226.5 233.0,228.8 233.2,232.3 233.4,231.8 233.7,228.3 233.9,230.5 234.1,234.0 234.3,234.1 234.6,235.5 234.8,230.8 235.0,232.3 235.3,234.8 235.5,233.9 235.7,236.2 235.9,236.7 236.2,237.9 236.4,237.5 236.6,239.2 236.9,240.1 237.1,239.3 237.3,237.2 237.5,242.2 237.8,240.6 238.0,241.3 238.2,241.1 238.5,238.1 238.7,242.4 238.9,240.4 239.1,239.5 239.4,244.5 239.6,241.7 239.8,243.0 240.1,244.3 240.3,245.9 240.5,239.7 240.8,241.8 241.0,244.6 241.2,242.3 241.4,237.6 241.7,244.1 241.9,244.4 242.1,245.5 242.4,244.5 242.6,243.3 242.8,244.6 243.0,244.1 243.3,243.3 243.5,244.7 243.7,244.9 244.0,242.4 244.2,246.2 244.4,245.8 244.6,245.6 244.9,239.0 245.1,244.3 245.3,243.7 245.6,242.0 245.8,244.8 246.0,240.7 246.2,245.6 246.5,243.7 246.7,241.7 246.9,244.8 247.2,242.5 247.4,241.7 247.6,237.9 247.8,240.5 248.1,241.1 248.3,239.5 248.5,233.8 248.8,237.4 249.0,236.4 249.2,233.4 249.4,229.5 249.7,225.9 249.9,225.4 250.1,224.5 250.4,224.9 250.6,224.5 250.8,221.6 251.0,219.8 251.3,222.5 251.5,221.6 251.7,227.6 252.0,224.3 252.2,229.1 252.4,231.4 252.7,229.8 252.9,235.1 253.1,234.6 253.3,234.9 253.6,236.0 253.8,239.2 254.0,242.1 254.3,237.6 254.5,243.2 254.7,242.5 254.9,242.1 255.2,243.9 255.4,244.6 255.6,244.9 255.9,246.9 256.1,244.0 256.3,249.7 256.5,247.9 256.8,245.4 257.0,243.1 257.2,246.8 257.5,246.3 257.7,248.5 257.9,248.6 258.1,251.0 258.4,247.3 258.6,249.1 258.8,247.0 259.1,247.2 259.3,250.8 259.5,247.8 259.7,248.0 260.0,247.6 260.2,248.9 260.4,249.5 260.7,248.3 260.9,246.4 261.1,249.3 261.3,247.2 261.6,248.1 261.8,249.3 262.0,249.4 262.3,244.7 262.5,252.2 262.7,250.6 262.9,252.8 263.2,253.9 263.4,247.5 263.6,248.3 263.9,249.8 264.1,251.1 264.3,248.5 264.6,248.9 264.8,251.5 265.0,247.9 265.2,250.0 265.5,251.7 265.7,249.2 265.9,251.2 266.2,249.6 266.4,246.9 266.6,248.9 266.8,249.5 267.1,249.3 267.3,250.0 267.5,250.7 267.8,250.6 268.0,250.4 268.2,249.3 268.4,249.7 268.7,249.5 268.9,249.1 269.1,252.7 269.4,246.8 269.6,250.7 269.8,247.3 270.0,249.2 270.3,251.8 270.5,249.9 270.7,253.0 271.0,248.7 271.2,249.9 271.4,249.3 271.6,250.6 271.9,250.0 272.1,249.9 272.3,250.8 272.6,252.7 272.8,250.9 273.0,250.8 273.2,250.2 273.5,249.4 273.7,248.1 273.9,248.9 274.2,250.9 274.4,247.3 274.6,252.1 274.8,250.1 275.1,249.2 275.3,250.0 275.5,252.2 275.8,251.7 276.0,251.5 276.2,254.3 276.5,255.5 276.7,248.9 276.9,252.9 277.1,249.9 277.4,248.9 277.6,250.5 277.8,253.4 278.1,251.0 278.3,250.7 278.5,254.2 278.7,252.6 279.0,251.6 279.2,255.1 279.4,252.7 279.7,250.6 279.9,250.0 280.1,251.2 280.3,252.3 280.6,253.8 280.8,253.6 281.0,252.3 281.3,250.0 281.5,253.9 281.7,252.4 281.9,250.2 282.2,250.0 282.4,252.7 282.6,252.9 282.9,253.8 283.1,250.1 283.3,255.8 283.5,249.0 283.8,252.3 284.0,254.9 284.2,254.3 284.5,250.7 284.7,253.6 284.9,254.7 285.1,253.9 285.4,250.7 285.6,255.6 285.8,249.6 286.1,252.7 286.3,250.7 286.5,251.8 286.7,252.0 287.0,253.6 287.2,250.4 287.4,253.1 287.7,255.1 287.9,252.9 288.1,253.8 288.4,253.6 288.6,251.5 288.8,252.2 289.0,252.9 289.3,253.8 289.5,256.6 289.7,255.9 290.0,252.1 290.2,252.2 290.4,251.1 290.6,248.8 290.9,255.4 291.1,254.0 291.3,249.5 291.6,253.1 291.8,257.3 292.0,253.9 292.2,254.0 292.5,253.4 292.7,251.7 292.9,250.9 293.2,251.5 293.4,253.3 293.6,252.6 293.8,254.3 294.1,256.3 294.3,254.1 294.5,254.6 294.8,252.4 295.0,250.7 295.2,257.0 295.4,254.4 295.7,255.2 295.9,252.4 296.1,249.9 296.4,255.5 296.6,249.1 296.8,252.7 297.0,252.0 297.3,253.4 297.5,254.5 297.7,254.5 298.0,249.2 298.2,254.8 298.4,249.5 298.6,254.2 298.9,252.2 299.1,250.9 299.3,252.0 299.6,250.5 299.8,252.9 300.0,254.6 300.3,254.4 300.5,253.0 300.7,254.9 300.9,253.8 301.2,256.8 301.4,253.8 301.6,251.8 301.9,252.3 302.1,251.4 302.3,252.3 302.5,252.5 302.8,254.0 303.0,254.2 303.2,252.9 303.5,253.5 303.7,251.4 303.9,251.7 304.1,248.2 304.4,251.3 304.6,251.8 304.8,257.4 305.1,250.2 305.3,252.8 305.5,252.1 305.7,249.8 306.0,253.1 306.2,252.7 306.4,249.9 306.7,248.3 306.9,252.5 307.1,249.9 307.3,253.8 307.6,252.0 307.8,253.5 308.0,251.9 308.3,255.2 308.5,253.6 308.7,255.1 308.9,252.5 309.2,250.4 309.4,249.6 309.6,251.2 309.9,252.6 310.1,250.8 310.3,256.3 310.6,251.6 310.8,252.5 311.0,251.6 311.2,249.0 311.5,253.1 311.7,252.1 311.9,252.3 312.2,248.7 312.4,250.1 312.6,249.6 312.8,251.3 313.1,246.0 313.3,249.1 313.5,249.4 313.8,245.3 314.0,243.5 314.2,246.1 314.4,242.7 314.7,242.7 314.9,240.1 315.1,238.6 315.4,234.1 315.6,228.2 315.8,230.6 316.0,225.6 316.3,225.4 316.5,220.7 316.7,222.3 317.0,216.9 317.2,217.4 317.4,217.0 317.6,214.6 317.9,215.9 318.1,216.4 318.3,216.5 318.6,223.1 318.8,221.2 319.0,222.7 319.2,227.3 319.5,231.1 319.7,233.5 319.9,235.1 320.2,237.1 320.4,236.1 320.6,243.0 320.8,246.6 321.1,243.5 321.3,242.8 321.5,248.6 321.8,247.8 322.0,241.6 322.2,248.3 322.5,247.6 322.7,248.6 322.9,254.8 323.1,253.4 323.4,251.6 323.6,252.2 323.8,255.3 324.1,250.6 324.3,254.2 324.5,251.8 324.7,254.7 325.0,253.7 325.2,252.1 325.4,255.6 325.7,254.7 325.9,257.2 326.1,253.2 326.3,254.3 326.6,252.9 326.8,256.5 327.0,252.9 327.3,254.3 327.5,256.9 327.7,255.5 327.9,255.1 328.2,255.1 328.4,255.3 328.6,256.0 328.9,254.3 329.1,251.2 329.3,257.4 329.5,253.0 329.8,258.4 330.0,255.6 330.2,261.0 330.5,257.3 330.7,256.0 330.9,257.0 331.1,252.7 331.4,255.7 331.6,254.7 331.8,255.4 332.1,251.6 332.3,251.4 332.5,256.8 332.7,255.6 333.0,254.7 333.2,255.4 333.4,254.4 333.7,254.7 333.9,256.9 334.1,255.2 334.4,256.9 334.6,254.3 334.8,252.3 335.0,254.5 335.3,255.4 335.5,253.7 335.7,255.0 336.0,254.8 336.2,257.5 336.4,257.3 336.6,257.8 336.9,254.4 337.1,256.5 337.3,258.2 337.6,256.2 337.8,255.8 338.0,254.5 338.2,257.5 338.5,256.3 338.7,257.8 338.9,255.7 339.2,259.8 339.4,256.0 339.6,253.8 339.8,256.4 340.1,257.0 340.3,258.4 340.5,255.2 340.8,255.1 341.0,255.6 341.2,255.4 341.4,252.2 341.7,257.5 341.9,258.5 342.1,254.8 342.4,254.4 342.6,256.0 342.8,254.7 343.0,257.7 343.3,255.1 343.5,257.4 343.7,254.0 344.0,253.7 344.2,253.5 344.4,253.7 344.6,257.2 344.9,257.9 345.1,256.7 345.3,256.8 345.6,252.4 345.8,258.5 346.0,254.2 346.3,258.9 346.5,260.9 346.7,256.6 346.9,257.6 347.2,257.7 347.4,254.1 347.6,254.5 347.9,255.3 348.1,256.8 348.3,258.1 348.5,256.8 348.8,258.6 349.0,255.7 349.2,254.0 349.5,256.7 349.7,256.6 349.9,254.1 350.1,258.6 350.4,254.9 350.6,255.4 350.8,257.1 351.1,254.8 351.3,257.9 351.5,257.5 351.7,257.6 352.0,256.8 352.2,255.9 352.4,255.4 352.7,257.4 352.9,259.3 353.1,258.3 353.3,257.5 353.6,258.7 353.8,259.3 354.0,254.6 354.3,256.8 354.5,259.1 354.7,255.7 354.9,256.0 355.2,258.0 355.4,256.5 355.6,259.1 355.9,256.3 356.1,258.0 356.3,261.5 356.5,259.0 356.8,254.4 357.0,255.0 357.2,255.0 357.5,256.8 357.7,254.3 357.9,257.9 358.2,260.0 358.4,259.7 358.6,255.5 358.8,256.3 359.1,256.3 359.3,255.3 359.5,259.9 359.8,255.6 360.0,254.8 360.2,257.5 360.4,257.4 360.7,259.6 360.9,259.6 361.1,256.5 361.4,253.0 361.6,258.0 361.8,258.2 362.0,260.0 362.3,253.9 362.5,254.6 362.7,259.6 363.0,259.7 363.2,259.1 363.4,256.7 363.6,259.1 363.9,255.7 364.1,254.4 364.3,256.6 364.6,256.9 364.8,258.1 365.0,258.7 365.2,253.5 365.5,257.2 365.7,257.5 365.9,254.3 366.2,256.2 366.4,256.7 366.6,257.4 366.8,255.0 367.1,255.5 367.3,254.6 367.5,257.2 367.8,256.0 368.0,255.5 368.2,257.7 368.4,256.2 368.7,254.4 368.9,258.6 369.1,258.3 369.4,257.3 369.6,254.6 369.8,258.5 370.1,255.4 370.3,253.1 370.5,256.2 370.7,259.7 371.0,255.6 371.2,257.5 371.4,258.9 371.7,256.7 371.9,255.8 372.1,256.3 372.3,257.3 372.6,255.3 372.8,256.8 373.0,257.2 373.3,255.4 373.5,257.4 373.7,257.0 373.9,255.3 374.2,255.5 374.4,256.0 374.6,255.4 374.9,255.2 375.1,253.7 375.3,255.6 375.5,256.6 375.8,256.3 376.0,253.5 376.2,255.9 376.5,255.8 376.7,253.0 376.9,255.4 377.1,254.1 377.4,253.6 377.6,254.6 377.8,253.8 378.1,250.1 378.3,254.4 378.5,252.1 378.7,253.9 379.0,255.3 379.2,253.8 379.4,253.5 379.7,254.6 379.9,255.3 380.1,253.1 380.3,253.6 380.6,255.8 380.8,257.9 381.0,255.2 381.3,256.9 381.5,254.2 381.7,255.7 382.0,255.9 382.2,253.6 382.4,256.0 382.6,255.8 382.9,251.7 383.1,256.1 383.3,256.9 383.6,256.9 383.8,257.1 384.0,254.6 384.2,255.4 384.5,256.4 384.7,255.2 384.9,256.0 385.2,259.0 385.4,255.4 385.6,256.4 385.8,260.2 386.1,256.8 386.3,255.3 386.5,257.6 386.8,257.5 387.0,257.5 387.2,254.4 387.4,257.8 387.7,258.0 387.9,261.0 388.1,258.6 388.4,256.7 388.6,258.1 388.8,258.7 389.0,257.4 389.3,257.6 389.5,260.1 389.7,258.6 390.0,258.7 390.2,256.1 390.4,258.6 390.6,254.6 390.9,260.1 391.1,257.2 391.3,259.1 391.6,260.5 391.8,256.2 392.0,260.1 392.2,258.6 392.5,260.2 392.7,257.6 392.9,257.1 393.2,260.6 393.4,259.1 393.6,258.5 393.9,256.4 394.1,260.7 394.3,257.9 394.5,258.1 394.8,257.3 395.0,258.5 395.2,259.6 395.5,258.4 395.7,258.4 395.9,257.6 396.1,261.2 396.4,261.4 396.6,258.1 396.8,257.1 397.1,259.1 397.3,255.9 397.5,259.1 397.7,259.2 398.0,259.0 398.2,261.5 398.4,261.9 398.7,259.5 398.9,258.2 399.1,260.6 399.3,260.8 399.6,256.8 399.8,257.6 400.0,258.4 400.3,256.0 400.5,257.0 400.7,261.7 400.9,256.7 401.2,260.4 401.4,257.6 401.6,260.7 401.9,259.5 402.1,260.6 402.3,256.6 402.5,259.5 402.8,258.1 403.0,260.4 403.2,260.3 403.5,259.4 403.7,258.9 403.9,259.1 404.1,259.5 404.4,258.2 404.6,258.4 404.8,258.0 405.1,257.3 405.3,261.0 405.5,256.9 405.8,261.4 406.0,260.4 406.2,256.2 406.4,256.0 406.7,259.2 406.9,257.4 407.1,259.4 407.4,260.8 407.6,259.8 407.8,258.8 408.0,258.9 408.3,261.7 408.5,258.6 408.7,262.2 409.0,262.7 409.2,258.6 409.4,259.7 409.6,262.1 409.9,258.0 410.1,259.9 410.3,260.9 410.6,257.3 410.8,259.7 411.0,259.3 411.2,258.1 411.5,261.6 411.7,258.6 411.9,262.7 412.2,259.9 412.4,257.4 412.6,258.9 412.8,257.0 413.1,259.6 413.3,259.1 413.5,255.7 413.8,256.8 414.0,258.1 414.2,257.0 414.4,254.9 414.7,258.0 414.9,258.0 415.1,252.7 415.4,257.2 415.6,250.6 415.8,253.2 416.1,251.6 416.3,251.1 416.5,251.7 416.7,248.6 417.0,249.7 417.2,252.1 417.4,249.3 417.7,250.5 417.9,248.9 418.1,244.3 418.3,249.8 418.6,248.2 418.8,247.9 419.0,246.4 419.3,246.5 419.5,246.1 419.7,248.3 419.9,249.4 420.2,249.7 420.4,250.5 420.6,248.2 420.9,251.0 421.1,251.6 421.3,254.2 421.5,253.6 421.8,254.2 422.0,255.7 422.2,255.3 422.5,256.1 422.7,259.0 422.9,257.2 423.1,256.3 423.4,259.2 423.6,259.9 423.8,259.8 424.1,256.8 424.3,260.8 424.5,259.5 424.7,259.8 425.0,259.9 425.2,260.6 425.4,260.8 425.7,262.6 425.9,260.6 426.1,260.1 426.3,261.5 426.6,260.3 426.8,262.4 427.0,260.9 427.3,261.9 427.5,259.8 427.7,262.4 428.0,261.9 428.2,259.4 428.4,260.2 428.6,260.9 428.9,258.6 429.1,258.9 429.3,261.6 429.6,261.6 429.8,263.0 430.0,258.5 430.2,260.0 430.5,257.2 430.7,263.6 430.9,258.4 431.2,260.1 431.4,263.8 431.6,262.9 431.8,259.0 432.1,264.2 432.3,261.2 432.5,258.6 432.8,260.8 433.0,261.4 433.2,261.3 433.4,256.7 433.7,263.3 433.9,257.5 434.1,259.8 434.4,262.5 434.6,260.7 434.8,260.0 435.0,259.0 435.3,260.9 435.5,262.2 435.7,259.0 436.0,260.6 436.2,259.2 436.4,259.1 436.6,256.2 436.9,260.1 437.1,261.3 437.3,259.4 437.6,261.4 437.8,259.9 438.0,261.6 438.2,259.8 438.5,258.9 438.7,258.6 438.9,259.5 439.2,259.8 439.4,258.0 439.6,259.0 439.9,257.0 440.1,256.9 440.3,260.2 440.5,259.7 440.8,260.5 441.0,259.2 441.2,259.4 441.5,262.0 441.7,257.4 441.9,259.3 442.1,261.4 442.4,262.1 442.6,259.5 442.8,258.4 443.1,256.7 443.3,258.1 443.5,258.6 443.7,258.3 444.0,259.0 444.2,259.0 444.4,257.2 444.7,256.4 444.9,257.3 445.1,258.5 445.3,260.4 445.6,254.8 445.8,259.2 446.0,256.8 446.3,259.0 446.5,260.2 446.7,257.8 446.9,254.9 447.2,256.0 447.4,257.2 447.6,255.9 447.9,256.2 448.1,254.9 448.3,255.7 448.5,254.9 448.8,257.2 449.0,256.1 449.2,256.7 449.5,252.6 449.7,254.4 449.9,253.8 450.1,254.2 450.4,253.3 450.6,253.4 450.8,257.1 451.1,254.0 451.3,252.2 451.5,253.7 451.8,257.8 452.0,255.2 452.2,252.4 452.4,253.5 452.7,253.8 452.9,253.9 453.1,250.8 453.4,252.3 453.6,253.5 453.8,251.0 454.0,253.6 454.3,254.0 454.5,255.2 454.7,255.8 455.0,253.7 455.2,254.5 455.4,255.4 455.6,256.1 455.9,254.7 456.1,253.5 456.3,255.8 456.6,256.4 456.8,255.4 457.0,256.2 457.2,258.0 457.5,254.7 457.7,254.5 457.9,254.0 458.2,256.5 458.4,257.6 458.6,255.3 458.8,259.2 459.1,255.4 459.3,256.9 459.5,256.3 459.8,258.9 460.0,255.7 460.2,259.5 460.4,256.6 460.7,254.8 460.9,256.1 461.1,256.9 461.4,260.0 461.6,256.5 461.8,257.3 462.0,260.8 462.3,257.7 462.5,256.5 462.7,256.4 463.0,255.1 463.2,258.3 463.4,259.7 463.7,257.2 463.9,256.1 464.1,258.3 464.3,257.9 464.6,257.7 464.8,258.7 465.0,258.1 465.3,257.5 465.5,259.7 465.7,255.1 465.9,256.3 466.2,257.7 466.4,256.0 466.6,260.7 466.9,254.7 467.1,259.5 467.3,259.3 467.5,259.0 467.8,259.1 468.0,257.5 468.2,257.3 468.5,260.9 468.7,258.3 468.9,256.2 469.1,256.6 469.4,256.1 469.6,259.1 469.8,260.6 470.1,258.2 470.3,259.0 470.5,258.0 470.7,260.3 471.0,260.4 471.2,260.5 471.4,262.0 471.7,257.0 471.9,260.4 472.1,256.5 472.3,260.3 472.6,260.5 472.8,260.4 473.0,260.6 473.3,259.1 473.5,258.3 473.7,260.6 473.9,258.4 474.2,260.6 474.4,258.1 474.6,260.1 474.9,260.0 475.1,258.2 475.3,259.1 475.6,261.2 475.8,259.7 476.0,260.6 476.2,258.9 476.5,260.0 476.7,257.4 476.9,258.6 477.2,261.9 477.4,260.8 477.6,260.0 477.8,260.2 478.1,257.8 478.3,260.6 478.5,257.9 478.8,258.7 479.0,261.0 479.2,258.6 479.4,258.9 479.7,259.6 479.9,259.8 480.1,261.8 480.4,256.8 480.6,258.9 480.8,260.5 481.0,258.7 481.3,258.8 481.5,258.1 481.7,258.8 482.0,260.4 482.2,261.3 482.4,259.8 482.6,261.4 482.9,259.3 483.1,256.4 483.3,260.3 483.6,255.8 483.8,258.9 484.0,259.0 484.2,257.1 484.5,258.6 484.7,258.0 484.9,259.0 485.2,258.3 485.4,259.7 485.6,258.1 485.8,259.7 486.1,258.6 486.3,259.0 486.5,258.7 486.8,257.7 487.0,260.3 487.2,259.4 487.5,254.7 487.7,256.4 487.9,261.1 488.1,257.8 488.4,262.8 488.6,258.9 488.8,258.9 489.1,257.4 489.3,257.8 489.5,258.3 489.7,259.5 490.0,258.2 490.2,257.9 490.4,256.3 490.7,257.1 490.9,257.1 491.1,257.6 491.3,256.6 491.6,255.9 491.8,257.2 492.0,253.6 492.3,255.1 492.5,256.2 492.7,258.1 492.9,256.3 493.2,255.6 493.4,258.4 493.6,257.0 493.9,259.4 494.1,256.8 494.3,256.0 494.5,256.5 494.8,259.9 495.0,259.5 495.2,257.2 495.5,258.6 495.7,254.6 495.9,258.8 496.1,257.3 496.4,256.6 496.6,256.7 496.8,257.1 497.1,255.9 497.3,256.0 497.5,254.6 497.7,259.0 498.0,255.0 498.2,256.1 498.4,258.0 498.7,258.2 498.9,258.5 499.1,255.2 499.4,255.4 499.6,256.0 499.8,253.0 500.0,257.4 500.3,253.3 500.5,255.7 500.7,257.3 501.0,257.2 501.2,255.1 501.4,257.3 501.6,257.5 501.9,253.1 502.1,255.3 502.3,256.8 502.6,256.4 502.8,255.4 503.0,255.5 503.2,259.4 503.5,255.1 503.7,257.4 503.9,253.7 504.2,256.5 504.4,257.3 504.6,255.0 504.8,254.6 505.1,258.6 505.3,255.3 505.5,257.3 505.8,253.3 506.0,258.4 506.2,252.5 506.4,254.2 506.7,254.7 506.9,255.6 507.1,256.0 507.4,258.2 507.6,259.0 507.8,258.7 508.0,257.0 508.3,256.0 508.5,252.3 508.7,255.5 509.0,254.7 509.2,256.6 509.4,254.0 509.6,254.2 509.9,254.4 510.1,256.6 510.3,255.8 510.6,253.9 510.8,252.7 511.0,254.6 511.3,254.5 511.5,254.6 511.7,255.6 511.9,256.6 512.2,256.7 512.4,254.3 512.6,254.2 512.9,257.8 513.1,255.0 513.3,256.5 513.5,255.7 513.8,256.0 514.0,257.9 514.2,255.0 514.5,257.1 514.7,256.2 514.9,255.1 515.1,254.5 515.4,254.4 515.6,257.1 515.8,256.9 516.1,253.9 516.3,255.9 516.5,252.4 516.7,255.4 517.0,258.6 517.2,253.4 517.4,255.8 517.7,254.4 517.9,255.5 518.1,253.7 518.3,255.7 518.6,251.7 518.8,255.0 519.0,254.9 519.3,255.3 519.5,258.7 519.7,253.6 519.9,254.4 520.2,253.3 520.4,256.3 520.6,255.6 520.9,253.6 521.1,257.1 521.3,256.0 521.5,257.9 521.8,256.8 522.0,255.7 522.2,254.3 522.5,252.1 522.7,254.7 522.9,257.5 523.2,255.3 523.4,254.3 523.6,256.1 523.8,256.9 524.1,260.2 524.3,254.1 524.5,255.2 524.8,253.9 525.0,254.6 525.2,257.2 525.4,255.6 525.7,253.4 525.9,258.0 526.1,258.7 526.4,257.1 526.6,254.2 526.8,254.1 527.0,257.9 527.3,254.2 527.5,254.9"/>
<polyline stroke="#ff0000" points="69.8,289.6 70.0,287.8 70.3,288.1 70.5,283.0 70.7,293.5 70.9,291.8 71.2,288.1 71.4,290.8 71.6,289.5 71.9,287.4 72.1,291.1 72.3,287.9 72.5,287.8 72.8,286.6 73.0,289.6 73.2,288.2 73.5,289.8 73.7,286.8 73.9,288.6 74.1,286.0 74.4,290.3 74.6,288.6 74.8,288.9 75.1,289.1 75.3,285.5 75.5,289.9 75.8,293.0 76.0,283.8 76.2,283.5 76.4,284.0 76.7,289.8 76.9,287.9 77.1,290.3 77.4,289.3 77.6,288.0 77.8,288.1 78.0,286.9 78.3,289.5 78.5,284.5 78.7,286.2 79.0,287.8 79.2,291.6 79.4,285.2 79.6,284.3 79.9,285.5 80.1,289.3 80.3,286.2 80.6,290.0 80.8,282.1 81.0,289.4 81.2,289.2 81.5,283.0 81.7,286.9 81.9,289.4 82.2,286.6 82.4,288.8 82.6,292.1 82.8,286.9 83.1,285.5 83.3,284.2 83.5,287.6 83.8,285.5 84.0,285.5 84.2,285.6 84.4,287.4 84.7,283.1 84.9,281.9 85.1,279.6 85.4,288.5 85.6,285.7 85.8,289.1 86.0,285.3 86.3,283.5 86.5,286.4 86.7,285.0 87.0,282.0 87.2,282.9 87.4,289.3 87.7,285.8 87.9,285.9 88.1,284.1 88.3,283.0 88.6,286.8 88.8,284.3 89.0,282.6 89.3,284.1 89.5,282.1 89.7,284.7 89.9,286.9 90.2,282.1 90.4,287.5 90.6,282.3 90.9,284.3 91.1,281.8 91.3,283.2 91.5,283.8 91.8,282.6 92.0,281.8 92.2,281.8 92.5,281.4 92.7,279.5 92.9,282.6 93.1,284.1 93.4,285.2 93.6,284.5 93.8,288.8 94.1,283.5 94.3,281.5 94.5,287.0 94.7,279.8 95.0,284.5 95.2,279.7 95.4,282.7 95.7,276.9 95.9,283.7 96.1,281.0 96.3,278.8 96.6,285.0 96.8,282.6 97.0,280.6 97.3,278.4 97.5,279.9 97.7,279.3 97.9,281.1 98.2,281.0 98.4,277.1 98.6,277.0 98.9,276.7 99.1,274.3 99.3,275.7 99.6,276.5 99.8,277.9 100.0,278.9 100.2,273.3 100.5,276.0 100.7,273.1 100.9,278.6 101.2,272.8 101.4,273.5 101.6,269.4 101.8,269.0 102.1,270.7 102.3,268.6 102.5,269.6 102.8,264.2 103.0,268.8 103.2,264.2 103.4,269.6 103.7,263.9 103.9,266.3 104.1,259.4 104.4,262.7 104.6,258.5 104.8,258.2 105.0,258.0 105.3,255.6 105.5,255.1 105.7,254.0 106.0,251.2 106.2,246.6 106.4,240.4 106.6,238.7 106.9,237.4 107.1,230.8 107.3,237.0 107.6,235.3 107.8,237.2 108.0,242.7 108.2,244.8 108.5,246.5 108.7,246.1 108.9,251.4 109.2,253.3 109.4,251.9 109.6,257.8 109.8,257.6 110.1,252.6 110.3,258.4 110.5,255.9 110.8,262.4 111.0,262.3 111.2,258.4 111.5,259.6 111.7,262.6 111.9,262.4 112.1,267.2 112.4,265.8 112.6,264.0 112.8,266.5 113.1,260.8 113.3,266.9 113.5,268.7 113.7,266.6 114.0,265.8 114.2,269.3 114.4,273.0 114.7,269.3 114.9,266.5 115.1,273.0 115.3,265.5 115.6,271.5 115.8,269.3 116.0,273.3 116.3,269.4 116.5,275.0 116.7,272.9 116.9,268.5 117.2,268.3 117.4,272.6 117.6,276.8 117.9,274.5 118.1,274.7 118.3,274.3 118.5,277.0 118.8,276.5 119.0,276.6 119.2,274.0 119.5,279.5 119.7,280.2 119.9,274.2 120.1,283.1 120.4,279.6 120.6,277.0 120.8,273.9 121.1,280.3 121.3,280.3 121.5,277.8 121.7,275.2 122.0,282.3 122.2,278.5 122.4,279.0 122.7,287.0 122.9,285.5 123.1,282.9 123.4,279.7 123.6,282.5 123.8,275.7 124.0,281.5 124.3,279.6 124.5,278.5 124.7,277.9 125.0,283.0 125.2,282.1 125.4,282.3 125.6,284.1 125.9,280.2 126.1,279.3 126.3,278.2 126.6,281.6 126.8,284.3 127.0,282.2 127.2,284.1 127.5,279.9 127.7,281.6 127.9,281.0 128.2,279.9 128.4,287.3 128.6,285.0 128.8,281.2 129.1,281.3 129.3,283.0 129.5,279.8 129.8,284.2 130.0,280.2 130.2,282.4 130.4,280.9 130.7,282.3 130.9,280.3 131.1,279.8 131.4,281.3 131.6,282.0 131.8,282.9 132.0,283.8 132.3,287.3 132.5,285.6 132.7,283.2 133.0,285.5 133.2,282.3 133.4,287.3 133.6,285.2 133.9,280.8 134.1,285.8 134.3,286.0 134.6,277.8 134.8,282.4 135.0,283.1 135.3,279.7 135.5,281.7 135.7,282.1 135.9,285.5 136.2,285.0 136.4,290.5 136.6,283.5 136.9,287.1 137.1,284.6 137.3,285.1 137.5,281.8 137.8,280.1 138.0,282.8 138.2,286.4 138.5,288.3 138.7,286.1 138.9,285.9 139.1,282.8 139.4,288.3 139.6,287.9 139.8,283.6 140.1,284.8 140.3,282.6 140.5,288.3 140.7,285.9 141.0,284.8 141.2,285.9 141.4,286.0 141.7,284.1 141.9,282.2 142.1,282.1 142.3,281.1 142.6,286.2 142.8,290.3 143.0,281.3 143.3,285.6 143.5,286.2 143.7,283.0 143.9,285.8 144.2,282.8 144.4,288.1 144.6,284.0 144.9,285.6 145.1,287.0 145.3,284.5 145.5,281.3 145.8,284.3 146.0,287.3 146.2,285.3 146.5,286.1 146.7,283.1 146.9,285.9 147.2,287.3 147.4,285.7 147.6,290.0 147.8,285.2 148.1,283.3 148.3,282.0 148.5,288.4 148.8,285.6 149.0,288.1 149.2,286.9 149.4,289.6 149.7,288.8 149.9,285.0 150.1,286.5 150.4,288.4 150.6,283.1 150.8,289.3 151.0,288.8 151.3,288.3 151.5,285.6 151.7,286.7 152.0,283.5 152.2,286.2 152.4,284.8 152.6,286.3 152.9,285.0 153.1,286.8 153.3,288.8 153.6,283.2 153.8,288.3 154.0,281.6 154.2,281.3 154.5,285.9 154.7,286.2 154.9,287.2 155.2,282.4 155.4,286.0 155.6,286.5 155.8,289.0 156.1,285.9 156.3,287.3 156.5,283.9 156.8,285.7 157.0,285.0 157.2,287.6 157.4,283.7 157.7,284.0 157.9,287.2 158.1,289.9 158.4,286.6 158.6,286.3 158.8,284.7 159.1,287.9 159.3,286.5 159.5,289.0 159.7,285.7 160.0,282.6 160.2,283.2 160.4,282.0 160.7,281.1 160.9,286.5 161.1,285.1 161.3,280.1 161.6,286.5 161.8,282.5 162.0,279.3 162.3,281.7 162.5,280.1 162.7,277.9 162.9,274.5 163.2,278.2 163.4,278.0 163.6,270.7 163.9,276.8 164.1,276.0 164.3,272.6 164.5,273.0 164.8,271.1 165.0,268.8 165.2,268.9 165.5,271.7 165.7,264.4 165.9,267.3 166.1,266.3 166.4,263.5 166.6,263.3 166.8,260.6 167.1,261.4 167.3,263.0 167.5,263.5 167.7,260.7 168.0,269.8 168.2,261.9 168.4,264.0 168.7,263.7 168.9,264.1 169.1,268.7 169.3,265.6 169.6,270.7 169.8,271.3 170.0,267.4 170.3,273.2 170.5,270.5 170.7,279.2 171.0,273.2 171.2,273.0 171.4,271.9 171.6,274.3 171.9,276.8 172.1,276.8 172.3,277.1 172.6,279.1 172.8,281.0 173.0,285.4 173.2,279.0 173.5,282.2 173.7,281.9 173.9,281.1 174.2,282.2 174.4,283.4 174.6,287.5 174.8,285.8 175.1,285.4 175.3,288.3 175.5,287.8 175.8,287.0 176.0,288.5 176.2,286.1 176.4,289.5 176.7,289.3 176.9,287.5 177.1,285.9 177.4,292.1 177.6,289.1 177.8,295.8 178.0,287.7 178.3,291.1 178.5,288.4 178.7,290.0 179.0,291.4 179.2,287.9 179.4,289.5 179.6,290.2 179.9,290.1 180.1,291.3 180.3,292.3 180.6,291.9 180.8,290.7 181.0,289.5 181.2,287.8 181.5,288.7 181.7,289.3 181.9,292.0 182.2,289.7 182.4,287.9 182.6,292.0 182.9,288.9 183.1,289.1 183.3,290.3 183.5,291.9 183.8,285.6 184.0,288.5 184.2,291.4 184.5,290.3 184.7,289.2 184.9,290.0 185.1,294.3 185.4,290.3 185.6,292.9 185.8,293.1 186.1,290.4 186.3,292.5 186.5,290.5 186.7,290.2 187.0,289.1 187.2,293.6 187.4,290.8 187.7,290.5 187.9,289.3 188.1,295.8 188.3,293.5 188.6,291.6 188.8,290.5 189.0,288.7 189.3,292.7 189.5,292.7 189.7,289.1 189.9,294.7 190.2,293.9 190.4,290.2 190.6,291.1 190.9,291.4 191.1,292.8 191.3,292.1 191.5,288.9 191.8,295.7 192.0,293.3 192.2,295.4 192.5,295.4 192.7,292.2 192.9,293.5 193.2,294.4 193.4,294.5 193.6,292.5 193.8,291.5 194.1,293.0 194.3,291.2 194.5,291.8 194.8,288.6 195.0,293.3 195.2,290.9 195.4,291.9 195.7,293.1 195.9,293.9 196.1,297.4 196.4,293.7 196.6,290.3 196.8,293.6 197.0,292.1 197.3,294.3 197.5,292.0 197.7,292.0 198.0,292.4 198.2,292.2 198.4,289.7 198.6,292.2 198.9,293.7 199.1,296.3 199.3,293.1 199.6,293.0 199.8,295.1 200.0,295.0 200.2,297.3 200.5,295.2 200.7,293.9 200.9,296.9 201.2,297.3 201.4,293.0 201.6,294.4 201.8,290.5 202.1,293.4 202.3,292.3 202.5,293.7 202.8,293.2 203.0,293.9 203.2,294.1 203.4,295.4 203.7,294.9 203.9,293.2 204.1,291.6 204.4,297.0 204.6,297.4 204.8,293.4 205.1,295.5 205.3,291.0 205.5,290.9 205.7,293.7 206.0,297.4 206.2,292.0 206.4,292.4 206.7,297.6 206.9,290.1 207.1,295.5 207.3,295.1 207.6,293.6 207.8,294.4 208.0,299.6 208.3,291.6 208.5,293.3 208.7,293.4 208.9,292.4 209.2,291.0 209.4,297.2 209.6,294.3 209.9,290.0 210.1,292.2 210.3,294.5 210.5,294.5 210.8,290.5 211.0,293.3 211.2,294.0 211.5,294.3 211.7,294.2 211.9,289.4 212.1,297.2 212.4,293.6 212.6,296.9 212.8,299.1 213.1,292.6 213.3,290.2 213.5,294.5 213.7,292.2 214.0,291.5 214.2,290.1 214.4,295.7 214.7,291.0 214.9,288.8 215.1,290.6 215.3,288.9 215.6,291.4 215.8,289.9 216.0,288.3 216.3,291.5 216.5,288.5 216.7,291.0 217.0,291.7 217.2,287.8 217.4,286.7 217.6,288.0 217.9,288.9 218.1,286.4 218.3,286.1 218.6,285.1 218.8,285.1 219.0,285.1 219.2,281.5 219.5,281.2 219.7,281.6 219.9,279.4 220.2,280.3 220.4,280.4 220.6,278.6 220.8,276.7 221.1,275.7 221.3,280.5 221.5,278.2 221.8,273.7 222.0,274.0 222.2,279.6 222.4,278.8 222.7,276.0 222.9,278.4 223.1,273.2 223.4,276.7 223.6,278.8 223.8,274.0 224.0,276.9 224.3,280.9 224.5,282.4 224.7,279.5 225.0,282.2 225.2,285.7 225.4,282.4 225.6,281.2 225.9,284.6 226.1,284.6 226.3,288.9 226.6,287.2 226.8,285.9 227.0,293.2 227.2,287.7 227.5,290.3 227.7,291.3 227.9,292.0 228.2,291.1 228.4,292.4 228.6,291.5 228.9,289.0 229.1,291.8 229.3,292.2 229.5,292.5 229.8,293.4 230.0,292.0 230.2,296.4 230.5,297.1 230.7,289.5 230.9,294.4 231.1,293.1 231.4,289.3 231.6,295.8 231.8,293.9 232.1,294.5 232.3,294.1 232.5,297.9 232.7,298.4 233.0,296.5 233.2,297.5 233.4,296.0 233.7,296.6 233.9,294.9 234.1,296.7 234.3,295.3 234.6,297.6 234.8,298.7 235.0,297.8 235.3,299.7 235.5,302.9 235.7,293.1 235.9,297.6 236.2,296.5 236.4,296.9 236.6,295.1 236.9,298.1 237.1,297.6 237.3,296.9 237.5,297.8 237.8,297.2 238.0,293.7 238.2,300.9 238.5,298.2 238.7,296.9 238.9,299.6 239.1,297.7 239.4,294.7 239.6,301.1 239.8,296.0 240.1,299.1 240.3,299.9 240.5,302.5 240.8,302.3 241.0,300.4 241.2,298.6 241.4,299.4 241.7,302.6 241.9,304.2 242.1,301.7 242.4,299.4 242.6,303.0 242.8,300.2 243.0,300.3 243.3,300.7 243.5,302.6 243.7,302.0 244.0,303.6 244.2,304.4 244.4,302.9 244.6,297.2 244.9,298.6 245.1,302.5 245.3,302.2 245.6,306.9 245.8,302.5 246.0,302.4 246.2,304.7 246.5,305.1 246.7,302.6 246.9,304.1 247.2,301.0 247.4,301.5 247.6,306.0 247.8,300.8 248.1,305.6 248.3,305.2 248.5,305.6 248.8,306.0 249.0,305.4 249.2,300.0 249.4,302.4 249.7,303.4 249.9,306.6 250.1,302.5 250.4,303.5 250.6,304.3 250.8,307.8 251.0,302.3 251.3,302.6 251.5,306.6 251.7,301.1 252.0,306.1 252.2,304.5 252.4,302.3 252.7,304.7 252.9,303.5 253.1,306.0 253.3,306.4 253.6,308.7 253.8,305.7 254.0,306.0 254.3,304.6 254.5,305.8 254.7,308.0 254.9,302.0 255.2,307.3 255.4,304.9 255.6,306.2 255.9,306.7 256.1,307.8 256.3,306.6 256.5,305.4 256.8,306.9 257.0,306.3 257.2,305.9 257.5,306.8 257.7,308.1 257.9,306.7 258.1,306.8 258.4,303.9 258.6,306.3 258.8,302.8 259.1,308.0 259.3,304.8 259.5,309.3 259.7,312.7 260.0,306.0 260.2,309.5 260.4,307.6 260.7,305.7 260.9,305.2 261.1,308.1 261.3,309.8 261.6,307.7 261.8,304.0 262.0,305.0 262.3,306.7 262.5,309.9 262.7,307.8 262.9,307.9 263.2,309.7 263.4,306.9 263.6,307.2 263.9,307.0 264.1,303.9 264.3,308.4 264.6,308.3 264.8,309.5 265.0,305.2 265.2,306.0 265.5,309.5 265.7,308.3 265.9,310.5 266.2,306.0 266.4,308.2 266.6,306.5 266.8,308.5 267.1,306.9 267.3,309.0 267.5,310.1 267.8,309.4 268.0,304.5 268.2,310.0 268.4,309.0 268.7,306.1 268.9,306.4 269.1,308.3 269.4,309.4 269.6,307.4 269.8,305.1 270.0,308.9 270.3,308.8 270.5,313.3 270.7,305.9 271.0,313.5 271.2,312.0 271.4,309.2 271.6,311.9 271.9,308.9 272.1,310.6 272.3,307.3 272.6,308.9 272.8,306.8 273.0,305.8 273.2,308.3 273.5,307.6 273.7,310.0 273.9,311.4 274.2,308.6 274.4,309.1 274.6,309.3 274.8,305.7 275.1,309.5 275.3,309.0 275.5,308.9 275.8,306.9 276.0,305.1 276.2,308.6 276.5,309.7 276.7,311.7 276.9,311.3 277.1,312.0 277.4,309.8 277.6,311.4 277.8,308.7 278.1,310.4 278.3,311.0 278.5,314.5 278.7,309.7 279.0,306.7 279.2,311.9 279.4,307.7 279.7,309.1 279.9,308.7 280.1,307.5 280.3,311.9 280.6,310.5 280.8,308.1 281.0,309.5 281.3,308.5 281.5,310.6 281.7,308.6 281.9,307.9 282.2,308.2 282.4,308.6 282.6,310.0 282.9,307.7 283.1,309.3 283.3,310.3 283.5,314.0 283.8,311.2 284.0,303.7 284.2,308.5 284.5,308.8 284.7,310.2 284.9,312.6 285.1,311.0 285.4,305.1 285.6,310.2 285.8,309.8 286.1,310.4 286.3,312.3 286.5,307.5 286.7,311.8 287.0,306.5 287.2,309.8 287.4,310.4 287.7,314.1 287.9,308.4 288.1,306.5 288.4,311.1 288.6,308.5 288.8,312.8 289.0,308.4 289.3,308.1 289.5,312.2 289.7,310.0 290.0,311.7 290.2,307.1 290.4,313.0 290.6,308.7 290.9,311.4 291.1,307.9 291.3,306.8 291.6,309.3 291.8,310.2 292.0,312.9 292.2,310.5 292.5,311.2 292.7,311.1 292.9,315.8 293.2,308.3 293.4,312.3 293.6,309.6 293.8,310.4 294.1,308.8 294.3,312.1 294.5,307.5 294.8,307.3 295.0,309.5 295.2,307.7 295.4,311.2 295.7,311.6 295.9,308.4 296.1,311.4 296.4,308.6 296.6,309.8 296.8,309.9 297.0,313.4 297.3,309.9 297.5,308.1 297.7,308.1 298.0,312.1 298.2,306.7 298.4,308.9 298.6,309.1 298.9,305.2 299.1,308.9 299.3,311.7 299.6,310.2 299.8,308.1 300.0,311.1 300.3,310.8 300.5,313.6 300.7,308.3 300.9,309.0 301.2,309.8 301.4,309.4 301.6,309.8 301.9,309.4 302.1,308.3 302.3,306.5 302.5,308.5 302.8,306.8 303.0,307.4 303.2,308.3 303.5,310.3 303.7,310.9 303.9,307.2 304.1,309.6 304.4,310.5 304.6,308.8 304.8,305.6 305.1,304.5 305.3,310.0 305.5,310.1 305.7,308.7 306.0,306.0 306.2,310.6 306.4,309.9 306.7,307.3 306.9,306.7 307.1,303.2 307.3,308.1 307.6,303.3 307.8,307.4 308.0,307.2 308.3,305.7 308.5,308.2 308.7,304.2 308.9,305.6 309.2,305.7 309.4,304.4 309.6,302.8 309.9,305.6 310.1,303.8 310.3,302.3 310.6,302.1 310.8,302.4 311.0,306.3 311.2,302.0 311.5,301.3 311.7,299.6 311.9,299.3 312.2,298.0 312.4,302.1 312.6,301.8 312.8,299.9 313.1,299.2 313.3,301.6 313.5,301.4 313.8,300.1 314.0,303.4 314.2,303.3 314.4,303.2 314.7,305.0 314.9,302.5 315.1,306.6 315.4,302.3 315.6,305.4 315.8,305.9 316.0,304.4 316.3,305.7 316.5,302.8 316.7,302.6 317.0,305.2 317.2,304.4 317.4,307.1 317.6,306.2 317.9,307.5 318.1,307.1 318.3,307.1 318.6,307.0 318.8,306.3 319.0,306.3 319.2,311.2 319.5,304.2 319.7,307.4 319.9,309.8 320.2,308.9 320.4,310.9 320.6,309.4 320.8,306.2 321.1,308.1 321.3,306.2 321.5,310.9 321.8,311.9 322.0,308.4 322.2,310.4 322.5,308.7 322.7,306.9 322.9,308.9 323.1,306.8 323.4,308.8 323.6,310.4 323.8,311.4 324.1,312.6 324.3,309.6 324.5,310.7 324.7,311.2 325.0,311.5 325.2,305.1 325.4,309.1 325.7,312.1 325.9,308.5 326.1,311.1 326.3,312.3 326.6,307.2 326.8,310.4 327.0,311.3 327.3,310.9 327.5,308.0 327.7,311.5 327.9,309.9 328.2,312.5 328.4,311.8 328.6,310.0 328.9,311.4 329.1,309.8 329.3,309.8 329.5,308.2 329.8,310.7 330.0,312.7 330.2,311.4 330.5,311.2 330.7,310.1 330.9,310.3 331.1,312.7 331.4,308.5 331.6,315.2 331.8,311.2 332.1,315.4 332.3,313.6 332.5,310.6 332.7,312.8 333.0,311.9 333.2,312.3 333.4,313.0 333.7,310.5 333.9,310.4 334.1,310.8 334.4,309.0 334.6,311.1 334.8,312.1 335.0,312.1 335.3,312.0 335.5,310.9 335.7,313.2 336.0,307.9 336.2,311.0 336.4,311.1 336.6,313.5 336.9,313.0 337.1,313.3 337.3,311.9 337.6,313.6 337.8,310.0 338.0,312.0 338.2,308.0 338.5,315.1 338.7,314.9 338.9,310.8 339.2,310.4 339.4,308.1 339.6,309.2 339.8,312.3 340.1,311.8 340.3,309.3 340.5,311.2 340.8,310.9 341.0,313.0 341.2,313.5 341.4,311.8 341.7,312.4 341.9,312.2 342.1,308.4 342.4,312.6 342.6,312.2 342.8,313.7 343.0,308.9 343.3,313.8 343.5,311.2 343.7,312.9 344.0,314.7 344.2,309.7 344.4,310.0 344.6,314.3 344.9,310.4 345.1,310.7 345.3,313.7 345.6,312.2 345.8,314.0 346.0,313.2 346.3,312.6 346.5,314.5 346.7,316.7 346.9,312.5 347.2,315.5 347.4,314.8 347.6,312.9 347.9,313.6 348.1,311.0 348.3,311.7 348.5,313.3 348.8,312.8 349.0,315.3 349.2,310.5 349.5,312.4 349.7,311.7 349.9,312.7 350.1,315.1 350.4,310.7 350.6,314.5 350.8,311.9 351.1,312.4 351.3,314.9 351.5,312.5 351.7,314.3 352.0,313.2 352.2,312.7 352.4,312.4 352.7,309.8 352.9,311.7 353.1,313.4 353.3,313.5 353.6,310.3 353.8,315.0 354.0,314.2 354.3,310.7 354.5,311.2 354.7,314.1 354.9,309.9 355.2,311.8 355.4,313.1 355.6,312.9 355.9,313.1 356.1,313.9 356.3,311.7 356.5,312.3 356.8,317.0 357.0,310.6 357.2,312.4 357.5,313.4 357.7,312.1 357.9,315.5 358.2,313.4 358.4,314.7 358.6,308.4 358.8,315.5 359.1,315.4 359.3,311.9 359.5,315.7 359.8,313.8 360.0,315.1 360.2,316.7 360.4,313.5 360.7,311.5 360.9,313.4 361.1,311.0 361.4,311.9 361.6,312.0 361.8,312.1 362.0,315.6 362.3,315.0 362.5,311.8 362.7,315.5 363.0,310.4 363.2,312.3 363.4,313.2 363.6,315.7 363.9,314.8 364.1,314.4 364.3,315.9 364.6,314.9 364.8,316.1 365.0,312.1 365.2,310.4 365.5,312.8 365.7,315.1 365.9,314.1 366.2,315.2 366.4,314.9 366.6,314.6 366.8,315.1 367.1,312.3 367.3,315.7 367.5,311.8 367.8,313.4 368.0,311.1 368.2,314.6 368.4,310.8 368.7,316.3 368.9,311.2 369.1,314.2 369.4,313.4 369.6,312.1 369.8,316.0 370.1,312.9 370.3,316.4 370.5,311.9 370.7,312.3 371.0,310.1 371.2,314.8 371.4,315.5 371.7,314.2 371.9,313.5 372.1,312.1 372.3,318.1 372.6,315.2 372.8,310.4 373.0,313.3 373.3,309.0 373.5,316.7 373.7,317.5 373.9,316.5 374.2,313.8 374.4,312.8 374.6,311.3 374.9,314.9 375.1,312.5 375.3,313.2 375.5,312.7 375.8,313.4 376.0,315.6 376.2,317.1 376.5,314.2 376.7,314.0 376.9,311.9 377.1,311.7 377.4,312.0 377.6,315.6 377.8,314.5 378.1,315.8 378.3,314.8 378.5,313.3 378.7,311.8 379.0,313.4 379.2,311.4 379.4,317.8 379.7,314.6 379.9,313.4 380.1,317.8 380.3,313.4 380.6,315.1 380.8,313.8 381.0,314.8 381.3,313.5 381.5,315.1 381.7,316.8 382.0,311.9 382.2,310.1 382.4,316.7 382.6,314.5 382.9,315.8 383.1,313.7 383.3,317.1 383.6,317.6 383.8,312.1 384.0,315.5 384.2,313.1 384.5,311.3 384.7,313.7 384.9,315.3 385.2,311.8 385.4,311.9 385.6,316.6 385.8,314.3 386.1,315.0 386.3,312.2 386.5,313.1 386.8,314.5 387.0,314.7 387.2,314.6 387.4,317.2 387.7,314.6 387.9,311.5 388.1,312.7 388.4,314.2 388.6,316.7 388.8,313.1 389.0,313.6 389.3,314.3 389.5,313.0 389.7,312.8 390.0,313.9 390.2,316.2 390.4,315.2 390.6,313.8 390.9,315.1 391.1,312.0 391.3,316.2 391.6,315.7 391.8,314.9 392.0,311.4 392.2,318.1 392.5,309.0 392.7,312.6 392.9,312.7 393.2,315.7 393.4,311.7 393.6,314.9 393.9,314.2 394.1,313.9 394.3,316.0 394.5,317.1 394.8,315.2 395.0,314.0 395.2,310.3 395.5,317.2 395.7,313.9 395.9,311.1 396.1,314.8 396.4,317.2 396.6,314.2 396.8,312.4 397.1,318.6 397.3,315.6 397.5,315.2 397.7,316.4 398.0,310.5 398.2,314.4 398.4,314.2 398.7,318.7 398.9,313.5 399.1,313.5 399.3,312.0 399.6,313.0 399.8,314.2 400.0,315.0 400.3,314.2 400.5,318.2 400.7,315.5 400.9,315.7 401.2,317.1 401.4,315.7 401.6,313.6 401.9,311.7 402.1,315.2 402.3,313.1 402.5,317.0 402.8,313.2 403.0,310.5 403.2,314.7 403.5,316.6 403.7,314.2 403.9,314.9 404.1,314.9 404.4,317.7 404.6,315.1 404.8,314.5 405.1,313.4 405.3,311.6 405.5,317.1 405.8,316.7 406.0,312.8 406.2,315.7 406.4,315.1 406.7,313.8 406.9,314.0 407.1,315.9 407.4,312.3 407.6,313.5 407.8,314.3 408.0,314.5 408.3,314.1 408.5,314.8 408.7,315.4 409.0,312.7 409.2,314.5 409.4,313.4 409.6,317.1 409.9,311.7 410.1,313.8 410.3,315.4 410.6,313.6 410.8,313.4 411.0,313.0 411.2,314.5 411.5,311.7 411.7,313.6 411.9,313.5 412.2,310.9 412.4,314.0 412.6,312.5 412.8,313.8 413.1,314.7 413.3,313.6 413.5,310.7 413.8,313.3 414.0,309.7 414.2,311.0 414.4,315.3 414.7,312.1 414.9,314.8 415.1,311.5 415.4,311.6 415.6,309.4 415.8,313.0 416.1,310.8 416.3,312.2 416.5,311.7 416.7,311.8 417.0,311.3 417.2,310.6 417.4,310.6 417.7,309.3 417.9,306.7 418.1,311.5 418.3,314.5 418.6,312.7 418.8,315.1 419.0,311.9 419.3,309.4 419.5,309.5 419.7,312.8 419.9,312.2 420.2,311.5 420.4,313.3 420.6,310.5 420.9,313.2 421.1,312.0 421.3,312.9 421.5,315.0 421.8,312.7 422.0,315.6 422.2,315.7 422.5,312.0 422.7,317.8 422.9,311.4 423.1,313.6 423.4,315.3 423.6,309.9 423.8,316.0 424.1,316.3 424.3,314.1 424.5,314.9 424.7,314.9 425.0,314.2 425.2,316.6 425.4,314.0 425.7,314.6 425.9,315.4 426.1,316.4 426.3,316.8 426.6,312.2 426.8,311.2 427.0,314.7 427.3,314.9 427.5,313.0 427.7,315.6 428.0,316.2 428.2,315.8 428.4,318.1 428.6,313.2 428.9,315.2 429.1,318.6 429.3,316.4 429.6,313.1 429.8,315.5 430.0,317.3 430.2,319.0 430.5,316.4 430.7,317.3 430.9,313.2 431.2,314.8 431.4,317.4 431.6,313.5 431.8,315.1 432.1,311.9 432.3,317.9 432.5,315.0 432.8,316.3 433.0,312.6 433.2,312.9 433.4,318.6 433.7,314.7 433.9,314.3 434.1,316.2 434.4,316.3 434.6,311.7 434.8,313.5 435.0,315.3 435.3,315.3 435.5,315.9 435.7,314.5 436.0,314.7 436.2,315.6 436.4,314.0 436.6,313.7 436.9,314.2 437.1,315.2 437.3,314.9 437.6,314.3 437.8,314.7 438.0,315.1 438.2,315.7 438.5,315.8 438.7,312.8 438.9,316.9 439.2,312.2 439.4,316.1 439.6,313.8 439.9,316.1 440.1,317.0 440.3,311.7 440.5,316.1 440.8,315.5 441.0,314.2 441.2,315.7 441.5,314.1 441.7,315.2 441.9,313.1 442.1,316.3 442.4,316.0 442.6,316.2 442.8,313.7 443.1,318.1 443.3,318.4 443.5,314.6 443.7,314.0 444.0,314.0 444.2,315.9 444.4,316.5 444.7,313.2 444.9,310.9 445.1,315.3 445.3,314.3 445.6,314.6 445.8,315.2 446.0,312.2 446.3,314.2 446.5,313.5 446.7,314.6 446.9,316.0 447.2,313.8 447.4,312.1 447.6,315.8 447.9,314.7 448.1,313.0 448.3,310.1 448.5,311.6 448.8,313.3 449.0,314.0 449.2,311.9 449.5,313.6 449.7,311.6 449.9,311.9 450.1,313.5 450.4,312.1 450.6,312.7 450.8,314.0 451.1,314.5 451.3,311.4 451.5,312.0 451.8,310.2 452.0,310.2 452.2,313.1 452.4,311.8 452.7,309.5 452.9,313.8 453.1,311.4 453.4,312.4 453.6,313.8 453.8,313.9 454.0,313.2 454.3,309.8 454.5,314.4 454.7,312.5 455.0,311.1 455.2,309.8 455.4,316.1 455.6,314.1 455.9,314.2 456.1,315.1 456.3,314.0 456.6,311.6 456.8,315.5 457.0,316.1 457.2,315.3 457.5,317.2 457.7,317.9 457.9,313.2 458.2,313.9 458.4,316.2 458.6,315.0 458.8,315.1 459.1,316.5 459.3,316.2 459.5,314.1 459.8,315.1 460.0,313.7 460.2,314.6 460.4,313.0 460.7,311.6 460.9,314.2 461.1,314.0 461.4,316.7 461.6,317.9 461.8,315.2 462.0,316.0 462.3,314.1 462.5,313.6 462.7,314.7 463.0,314.8 463.2,315.8 463.4,315.5 463.7,318.2 463.9,315.0 464.1,312.5 464.3,315.6 464.6,314.2 464.8,315.8 465.0,317.4 465.3,314.3 465.5,315.3 465.7,316.4 465.9,313.8 466.2,315.9 466.4,316.5 466.6,317.0 466.9,317.5 467.1,316.6 467.3,316.3 467.5,313.2 467.8,310.9 468.0,314.0 468.2,318.2 468.5,315.9 468.7,311.8 468.9,315.0 469.1,316.4 469.4,312.5 469.6,316.8 469.8,313.8 470.1,317.6 470.3,315.9 470.5,321.3 470.7,313.5 471.0,316.4 471.2,313.3 471.4,317.9 471.7,316.1 471.9,317.6 472.1,316.1 472.3,313.9 472.6,314.9 472.8,313.8 473.0,314.2 473.3,316.3 473.5,317.9 473.7,317.6 473.9,317.0 474.2,315.1 474.4,317.0 474.6,314.6 474.9,316.5 475.1,317.6 475.3,315.8 475.6,315.4 475.8,315.4 476.0,317.3 476.2,315.7 476.5,313.8 476.7,315.5 476.9,314.4 477.2,318.9 477.4,316.3 477.6,313.8 477.8,316.8 478.1,317.6 478.3,317.0 478.5,315.7 478.8,316.5 479.0,316.7 479.2,318.0 479.4,316.9 479.7,320.1 479.9,315.8 480.1,318.8 480.4,316.2 480.6,313.2 480.8,314.1 481.0,312.9 481.3,313.1 481.5,318.1 481.7,314.9 482.0,317.1 482.2,314.4 482.4,316.0 482.6,314.1 482.9,317.4 483.1,315.5 483.3,315.1 483.6,315.6 483.8,319.6 484.0,316.6 484.2,317.3 484.5,313.6 484.7,314.7 484.9,316.3 485.2,312.5 485.4,318.0 485.6,316.2 485.8,315.7 486.1,315.3 486.3,315.2 486.5,314.8 486.8,318.0 487.0,316.8 487.2,317.7 487.5,315.0 487.7,314.0 487.9,317.8 488.1,313.4 488.4,314.4 488.6,316.7 488.8,317.3 489.1,313.1 489.3,314.9 489.5,315.4 489.7,315.1 490.0,313.8 490.2,316.5 490.4,314.4 490.7,314.9 490.9,311.4 491.1,315.0 491.3,311.9 491.6,316.4 491.8,316.0 492.0,314.3 492.3,315.4 492.5,315.3 492.7,314.8 492.9,315.7 493.2,314.8 493.4,314.2 493.6,313.6 493.9,317.9 494.1,315.3 494.3,314.9 494.5,316.2 494.8,314.2 495.0,314.2 495.2,316.0 495.5,316.6 495.7,316.0 495.9,312.3 496.1,314.9 496.4,314.7 496.6,315.5 496.8,313.2 497.1,312.9 497.3,314.5 497.5,313.2 497.7,312.8 498.0,314.5 498.2,316.2 498.4,314.8 498.7,316.5 498.9,312.9 499.1,315.7 499.4,314.5 499.6,313.0 499.8,313.8 500.0,313.0 500.3,314.1 500.5,313.2 500.7,316.7 501.0,313.9 501.2,312.1 501.4,314.2 501.6,315.3 501.9,314.1 502.1,316.1 502.3,313.1 502.6,313.2 502.8,317.5 503.0,314.7 503.2,315.7 503.5,315.6 503.7,315.8 503.9,314.9 504.2,314.5 504.4,316.7 504.6,314.0 504.8,315.1 505.1,316.0 505.3,314.2 505.5,312.3 505.8,315.7 506.0,316.8 506.2,315.5 506.4,312.4 506.7,316.5 506.9,318.9 507.1,313.1 507.4,311.2 507.6,315.6 507.8,316.2 508.0,317.6 508.3,317.8 508.5,316.7 508.7,317.6 509.0,317.4 509.2,317.2 509.4,317.0 509.6,317.0 509.9,318.6 510.1,318.2 510.3,316.8 510.6,319.4 510.8,316.3 511.0,317.2 511.3,317.8 511.5,314.4 511.7,317.0 511.9,319.1 512.2,319.0 512.4,315.7 512.6,316.3 512.9,315.9 513.1,317.3 513.3,317.6 513.5,315.1 513.8,318.3 514.0,317.9 514.2,317.7 514.5,316.7 514.7,317.5 514.9,314.9 515.1,318.2 515.4,318.2 515.6,317.7 515.8,315.9 516.1,320.0 516.3,319.8 516.5,314.8 516.7,318.6 517.0,318.2 517.2,313.7 517.4,318.9 517.7,319.1 517.9,319.2 518.1,318.3 518.3,317.0 518.6,317.2 518.8,319.0 519.0,320.1 519.3,317.3 519.5,317.7 519.7,319.3 519.9,314.6 520.2,319.0 520.4,317.8 520.6,314.6 520.9,319.5 521.1,316.8 521.3,319.6 521.5,320.6 521.8,316.3 522.0,316.4 522.2,318.3 522.5,315.5 522.7,319.6 522.9,318.7 523.2,320.1 523.4,315.4 523.6,318.8 523.8,319.2 524.1,315.5 524.3,320.0 524.5,316.2 524.8,318.8 525.0,316.4 525.2,319.9 525.4,321.4 525.7,318.7 525.9,318.7 526.1,320.8 526.4,317.9 526.6,318.8 526.8,320.1 527.0,319.4 527.3,321.3 527.5,320.7"/>
</g>
<g stroke="#000" stroke-width="2" fill="none">
<rect x="69.7" y="13.9" width="457.8" height="336.2"/>
<path d="M69.6 350V357.4M184 350V357.4M298.5 350V357.4M413 350V357.4M527.4 350V357.4M126.8 350V354.2M241.3 350V354.2M355.7 350V354.2M470.2 350V354.2"/>
</g>
<g font-size="23" text-anchor="middle">
<text x="69.4" y="380.2" textLength="26.1" lengthAdjust="spacingAndGlyphs">20</text>
<text x="184" y="380.2" textLength="26.1" lengthAdjust="spacingAndGlyphs">30</text>
<text x="298.5" y="380.2" textLength="26.1" lengthAdjust="spacingAndGlyphs">40</text>
<text x="413" y="380.2" textLength="26.1" lengthAdjust="spacingAndGlyphs">50</text>
<text x="526.9" y="380.2" textLength="26.1" lengthAdjust="spacingAndGlyphs">60</text>
</g>
<text x="197.3" y="413" font-size="26" textLength="201.9" lengthAdjust="spacingAndGlyphs">2 Theta (degree)</text>
<text transform="translate(31.4,289.6) rotate(-90)" font-size="26" textLength="180.4" lengthAdjust="spacingAndGlyphs">Intensity (a. u.)</text>
<g stroke-width="2" fill="none">
<path stroke="#000" d="M344.7 32.8H400"/>
<path stroke="#ff0000" d="M344.7 67.2H400"/>
<path stroke="#000080" d="M344.7 102H400"/>
<path stroke="#ff00ff" d="M344.7 136.7H400"/>
</g>
<g font-size="24">
<text x="406.2" y="40.7">as-grown</text>
<text x="406.3" y="74.65">400</text><text x="449.9" y="62.2" font-size="13">o</text><text x="457.7" y="74.65">C</text>
<text x="406.6" y="109.35">500</text><text x="452.5" y="96.8" font-size="13">o</text><text x="460.4" y="109.35">C</text>
<text x="406.3" y="144.3">600</text><text x="452.5" y="131.75" font-size="13">o</text><text x="460.4" y="144.3">C</text>
</g>
<g font-size="23" text-anchor="middle">
<text transform="translate(115.8,112.55) rotate(-90)" textLength="55.8" lengthAdjust="spacingAndGlyphs">(00<tspan font-family="NanumGothic,'Liberation Sans',sans-serif" font-size="21" stroke="#000" stroke-width="0.35">1</tspan>)</text>
<text transform="translate(176.4,59.1) rotate(-90)" textLength="55.8" lengthAdjust="spacingAndGlyphs">(<tspan font-family="NanumGothic,'Liberation Sans',sans-serif" font-size="21" stroke="#000" stroke-width="0.35">111</tspan>)</text>
<text transform="translate(231.3,172.5) rotate(-90)" textLength="55.8" lengthAdjust="spacingAndGlyphs">(02<tspan font-family="NanumGothic,'Liberation Sans',sans-serif" font-size="21" stroke="#000" stroke-width="0.35">1</tspan>)</text>
<text transform="translate(256.9,181.35) rotate(-90)" textLength="55.8" lengthAdjust="spacingAndGlyphs">(<tspan font-family="NanumGothic,'Liberation Sans',sans-serif" font-size="21" stroke="#000" stroke-width="0.35">1</tspan>2<tspan font-family="NanumGothic,'Liberation Sans',sans-serif" font-size="21" stroke="#000" stroke-width="0.35">1</tspan>)</text>
<text transform="translate(324.2,177.8) rotate(-90)" textLength="55.8" lengthAdjust="spacingAndGlyphs">(22<tspan font-family="NanumGothic,'Liberation Sans',sans-serif" font-size="21" stroke="#000" stroke-width="0.35">1</tspan>)</text>
<text transform="translate(424.2,210.45) rotate(-90)" textLength="55.8" lengthAdjust="spacingAndGlyphs">(<tspan font-family="NanumGothic,'Liberation Sans',sans-serif" font-size="21" stroke="#000" stroke-width="0.35">11</tspan>2)</text>
<text transform="translate(460.5,217.45) rotate(-90)" textLength="55.8" lengthAdjust="spacingAndGlyphs">(022)</text>
</g>
</svg>
</body></html>
